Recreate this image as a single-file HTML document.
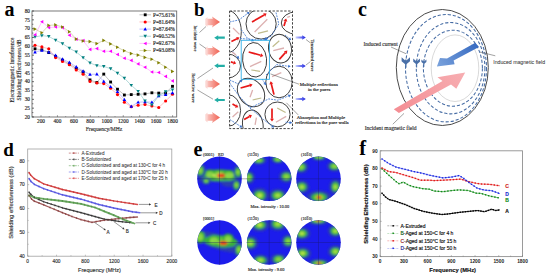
<!DOCTYPE html><html><head><meta charset="utf-8"><style>html,body{margin:0;padding:0;background:#fff;}svg{display:block;}</style></head><body>
<svg width="550" height="278" viewBox="0 0 550 278">
<rect width="550" height="278" fill="#fff"/>
<rect x="32.0" y="11.0" width="144.7" height="106.0" fill="none" stroke="#6a6a6a" stroke-width="0.9"/>
<line x1="32.0" y1="117.00" x2="34.0" y2="117.00" stroke="#333" stroke-width="0.7"/>
<text x="30.00" y="118.80" font-size="5.3" font-family="'Liberation Serif', serif" text-anchor="end" fill="#222" font-weight="normal" stroke="#222" stroke-width="0.15" >20</text>
<line x1="32.0" y1="108.17" x2="34.0" y2="108.17" stroke="#333" stroke-width="0.7"/>
<text x="30.00" y="109.97" font-size="5.3" font-family="'Liberation Serif', serif" text-anchor="end" fill="#222" font-weight="normal" stroke="#222" stroke-width="0.15" >25</text>
<line x1="32.0" y1="99.33" x2="34.0" y2="99.33" stroke="#333" stroke-width="0.7"/>
<text x="30.00" y="101.13" font-size="5.3" font-family="'Liberation Serif', serif" text-anchor="end" fill="#222" font-weight="normal" stroke="#222" stroke-width="0.15" >30</text>
<line x1="32.0" y1="90.50" x2="34.0" y2="90.50" stroke="#333" stroke-width="0.7"/>
<text x="30.00" y="92.30" font-size="5.3" font-family="'Liberation Serif', serif" text-anchor="end" fill="#222" font-weight="normal" stroke="#222" stroke-width="0.15" >35</text>
<line x1="32.0" y1="81.67" x2="34.0" y2="81.67" stroke="#333" stroke-width="0.7"/>
<text x="30.00" y="83.47" font-size="5.3" font-family="'Liberation Serif', serif" text-anchor="end" fill="#222" font-weight="normal" stroke="#222" stroke-width="0.15" >40</text>
<line x1="32.0" y1="72.83" x2="34.0" y2="72.83" stroke="#333" stroke-width="0.7"/>
<text x="30.00" y="74.63" font-size="5.3" font-family="'Liberation Serif', serif" text-anchor="end" fill="#222" font-weight="normal" stroke="#222" stroke-width="0.15" >45</text>
<line x1="32.0" y1="64.00" x2="34.0" y2="64.00" stroke="#333" stroke-width="0.7"/>
<text x="30.00" y="65.80" font-size="5.3" font-family="'Liberation Serif', serif" text-anchor="end" fill="#222" font-weight="normal" stroke="#222" stroke-width="0.15" >50</text>
<line x1="32.0" y1="55.17" x2="34.0" y2="55.17" stroke="#333" stroke-width="0.7"/>
<text x="30.00" y="56.97" font-size="5.3" font-family="'Liberation Serif', serif" text-anchor="end" fill="#222" font-weight="normal" stroke="#222" stroke-width="0.15" >55</text>
<line x1="32.0" y1="46.33" x2="34.0" y2="46.33" stroke="#333" stroke-width="0.7"/>
<text x="30.00" y="48.13" font-size="5.3" font-family="'Liberation Serif', serif" text-anchor="end" fill="#222" font-weight="normal" stroke="#222" stroke-width="0.15" >60</text>
<line x1="32.0" y1="37.50" x2="34.0" y2="37.50" stroke="#333" stroke-width="0.7"/>
<text x="30.00" y="39.30" font-size="5.3" font-family="'Liberation Serif', serif" text-anchor="end" fill="#222" font-weight="normal" stroke="#222" stroke-width="0.15" >65</text>
<line x1="32.0" y1="28.67" x2="34.0" y2="28.67" stroke="#333" stroke-width="0.7"/>
<text x="30.00" y="30.47" font-size="5.3" font-family="'Liberation Serif', serif" text-anchor="end" fill="#222" font-weight="normal" stroke="#222" stroke-width="0.15" >70</text>
<line x1="32.0" y1="19.83" x2="34.0" y2="19.83" stroke="#333" stroke-width="0.7"/>
<text x="30.00" y="21.63" font-size="5.3" font-family="'Liberation Serif', serif" text-anchor="end" fill="#222" font-weight="normal" stroke="#222" stroke-width="0.15" >75</text>
<line x1="32.0" y1="11.00" x2="34.0" y2="11.00" stroke="#333" stroke-width="0.7"/>
<text x="30.00" y="12.80" font-size="5.3" font-family="'Liberation Serif', serif" text-anchor="end" fill="#222" font-weight="normal" stroke="#222" stroke-width="0.15" >80</text>
<line x1="32.0" y1="112.58" x2="33.4" y2="112.58" stroke="#333" stroke-width="0.6"/>
<line x1="32.0" y1="103.75" x2="33.4" y2="103.75" stroke="#333" stroke-width="0.6"/>
<line x1="32.0" y1="94.92" x2="33.4" y2="94.92" stroke="#333" stroke-width="0.6"/>
<line x1="32.0" y1="86.08" x2="33.4" y2="86.08" stroke="#333" stroke-width="0.6"/>
<line x1="32.0" y1="77.25" x2="33.4" y2="77.25" stroke="#333" stroke-width="0.6"/>
<line x1="32.0" y1="68.42" x2="33.4" y2="68.42" stroke="#333" stroke-width="0.6"/>
<line x1="32.0" y1="59.58" x2="33.4" y2="59.58" stroke="#333" stroke-width="0.6"/>
<line x1="32.0" y1="50.75" x2="33.4" y2="50.75" stroke="#333" stroke-width="0.6"/>
<line x1="32.0" y1="41.92" x2="33.4" y2="41.92" stroke="#333" stroke-width="0.6"/>
<line x1="32.0" y1="33.08" x2="33.4" y2="33.08" stroke="#333" stroke-width="0.6"/>
<line x1="32.0" y1="24.25" x2="33.4" y2="24.25" stroke="#333" stroke-width="0.6"/>
<line x1="32.0" y1="15.42" x2="33.4" y2="15.42" stroke="#333" stroke-width="0.6"/>
<line x1="41.00" y1="117.0" x2="41.00" y2="115.2" stroke="#555" stroke-width="0.6"/>
<text x="41.00" y="123.10" font-size="5.3" font-family="'Liberation Serif', serif" text-anchor="middle" fill="#222" font-weight="normal" stroke="#222" stroke-width="0.15" >200</text>
<line x1="57.45" y1="117.0" x2="57.45" y2="115.2" stroke="#555" stroke-width="0.6"/>
<text x="57.45" y="123.10" font-size="5.3" font-family="'Liberation Serif', serif" text-anchor="middle" fill="#222" font-weight="normal" stroke="#222" stroke-width="0.15" >400</text>
<line x1="73.90" y1="117.0" x2="73.90" y2="115.2" stroke="#555" stroke-width="0.6"/>
<text x="73.90" y="123.10" font-size="5.3" font-family="'Liberation Serif', serif" text-anchor="middle" fill="#222" font-weight="normal" stroke="#222" stroke-width="0.15" >600</text>
<line x1="90.35" y1="117.0" x2="90.35" y2="115.2" stroke="#555" stroke-width="0.6"/>
<text x="90.35" y="123.10" font-size="5.3" font-family="'Liberation Serif', serif" text-anchor="middle" fill="#222" font-weight="normal" stroke="#222" stroke-width="0.15" >800</text>
<line x1="106.80" y1="117.0" x2="106.80" y2="115.2" stroke="#555" stroke-width="0.6"/>
<text x="106.80" y="123.10" font-size="5.3" font-family="'Liberation Serif', serif" text-anchor="middle" fill="#222" font-weight="normal" stroke="#222" stroke-width="0.15" >1000</text>
<line x1="123.25" y1="117.0" x2="123.25" y2="115.2" stroke="#555" stroke-width="0.6"/>
<text x="123.25" y="123.10" font-size="5.3" font-family="'Liberation Serif', serif" text-anchor="middle" fill="#222" font-weight="normal" stroke="#222" stroke-width="0.15" >1200</text>
<line x1="139.70" y1="117.0" x2="139.70" y2="115.2" stroke="#555" stroke-width="0.6"/>
<text x="139.70" y="123.10" font-size="5.3" font-family="'Liberation Serif', serif" text-anchor="middle" fill="#222" font-weight="normal" stroke="#222" stroke-width="0.15" >1400</text>
<line x1="156.15" y1="117.0" x2="156.15" y2="115.2" stroke="#555" stroke-width="0.6"/>
<text x="156.15" y="123.10" font-size="5.3" font-family="'Liberation Serif', serif" text-anchor="middle" fill="#222" font-weight="normal" stroke="#222" stroke-width="0.15" >1600</text>
<line x1="172.60" y1="117.0" x2="172.60" y2="115.2" stroke="#555" stroke-width="0.6"/>
<text x="172.60" y="123.10" font-size="5.3" font-family="'Liberation Serif', serif" text-anchor="middle" fill="#222" font-weight="normal" stroke="#222" stroke-width="0.15" >1800</text>
<line x1="32.77" y1="117.0" x2="32.77" y2="116.0" stroke="#555" stroke-width="0.5"/>
<line x1="49.23" y1="117.0" x2="49.23" y2="116.0" stroke="#555" stroke-width="0.5"/>
<line x1="65.67" y1="117.0" x2="65.67" y2="116.0" stroke="#555" stroke-width="0.5"/>
<line x1="82.12" y1="117.0" x2="82.12" y2="116.0" stroke="#555" stroke-width="0.5"/>
<line x1="98.58" y1="117.0" x2="98.58" y2="116.0" stroke="#555" stroke-width="0.5"/>
<line x1="115.03" y1="117.0" x2="115.03" y2="116.0" stroke="#555" stroke-width="0.5"/>
<line x1="131.48" y1="117.0" x2="131.48" y2="116.0" stroke="#555" stroke-width="0.5"/>
<line x1="147.93" y1="117.0" x2="147.93" y2="116.0" stroke="#555" stroke-width="0.5"/>
<line x1="164.38" y1="117.0" x2="164.38" y2="116.0" stroke="#555" stroke-width="0.5"/>
<text x="104.00" y="130.60" font-size="5.6" font-family="'Liberation Serif', serif" text-anchor="middle" fill="#333" font-weight="normal" stroke="#333" stroke-width="0.15" >Frequency/MHz</text>
<g transform="translate(14.0,70) rotate(-90)">
<text x="0.00" y="0.00" font-size="5.6" font-family="'Liberation Serif', serif" text-anchor="middle" fill="#333" font-weight="normal" stroke="#333" stroke-width="0.15" >Electromagnetic Interference</text>
<text x="0.00" y="6.90" font-size="5.6" font-family="'Liberation Serif', serif" text-anchor="middle" fill="#333" font-weight="normal" stroke="#333" stroke-width="0.15" >Shielding Effectiveness/dB</text>
</g>
<polyline points="35.00,48.80 41.88,49.80 48.75,52.60 55.62,56.40 62.50,60.20 69.38,64.00 76.25,68.30 83.12,72.00 90.00,79.90 96.88,82.50 103.75,74.10 110.62,82.00 117.50,89.20 124.38,95.00 131.25,94.60 138.12,94.30 145.00,93.90 151.88,92.80 158.75,93.10 165.62,93.10 172.50,86.30" fill="none" stroke="#9a9a9a" stroke-width="0.6"/>
<polyline points="35.00,45.30 41.88,46.90 48.75,48.80 55.62,57.60 62.50,61.40 69.38,64.80 76.25,70.00 83.12,74.20 90.00,81.40 96.88,83.00 103.75,83.60 110.62,88.30 117.50,94.60 124.38,102.20 131.25,106.70 138.12,105.20 145.00,104.50 151.88,106.00 158.75,107.50 165.62,101.00 172.50,94.30" fill="none" stroke="#ff9a9a" stroke-width="0.6"/>
<polyline points="35.00,52.00 41.88,50.30 48.75,52.00 55.62,55.40 62.50,59.10 69.38,62.40 76.25,66.80 83.12,71.00 90.00,74.40 96.88,74.10 103.75,81.40 110.62,86.70 117.50,91.70 124.38,99.50 131.25,106.40 138.12,102.20 145.00,101.90 151.88,102.20 158.75,95.80 165.62,94.60 172.50,92.80" fill="none" stroke="#9a9aff" stroke-width="0.6"/>
<polyline points="35.00,37.00 41.88,35.60 48.75,36.40 55.62,40.20 62.50,43.60 69.38,48.20 76.25,52.00 83.12,57.60 90.00,62.90 96.88,65.70 103.75,66.40 110.62,68.70 117.50,73.10 124.38,78.20 131.25,85.30 138.12,91.30 145.00,101.00 151.88,104.90 158.75,95.80 165.62,91.60 172.50,89.80" fill="none" stroke="#80c0c0" stroke-width="0.6"/>
<polyline points="35.00,34.80 41.88,21.70 48.75,27.60 55.62,27.00 62.50,27.60 69.38,35.20 76.25,39.20 83.12,40.60 90.00,49.40 96.88,48.60 103.75,51.30 110.62,51.30 117.50,54.50 124.38,58.20 131.25,60.40 138.12,63.90 145.00,67.20 151.88,72.00 158.75,72.50 165.62,76.40 172.50,80.90" fill="none" stroke="#ff9aff" stroke-width="0.6"/>
<polyline points="35.00,29.10 41.88,32.70 48.75,25.40 55.62,24.90 62.50,27.00 69.38,31.70 76.25,39.10 83.12,41.00 90.00,41.60 96.88,43.60 103.75,40.40 110.62,43.90 117.50,47.30 124.38,50.80 131.25,53.60 138.12,55.10 145.00,57.40 151.88,59.30 158.75,62.70 165.62,67.20 172.50,71.40" fill="none" stroke="#c0c080" stroke-width="0.6"/>
<rect x="33.58" y="47.38" width="2.84" height="2.84" fill="#000000"/>
<rect x="40.45" y="48.38" width="2.84" height="2.84" fill="#000000"/>
<rect x="47.33" y="51.18" width="2.84" height="2.84" fill="#000000"/>
<rect x="54.20" y="54.98" width="2.84" height="2.84" fill="#000000"/>
<rect x="61.08" y="58.78" width="2.84" height="2.84" fill="#000000"/>
<rect x="67.95" y="62.58" width="2.84" height="2.84" fill="#000000"/>
<rect x="74.83" y="66.88" width="2.84" height="2.84" fill="#000000"/>
<rect x="81.70" y="70.58" width="2.84" height="2.84" fill="#000000"/>
<rect x="88.58" y="78.48" width="2.84" height="2.84" fill="#000000"/>
<rect x="95.45" y="81.08" width="2.84" height="2.84" fill="#000000"/>
<rect x="102.33" y="72.68" width="2.84" height="2.84" fill="#000000"/>
<rect x="109.20" y="80.58" width="2.84" height="2.84" fill="#000000"/>
<rect x="116.08" y="87.78" width="2.84" height="2.84" fill="#000000"/>
<rect x="122.95" y="93.58" width="2.84" height="2.84" fill="#000000"/>
<rect x="129.83" y="93.18" width="2.84" height="2.84" fill="#000000"/>
<rect x="136.71" y="92.88" width="2.84" height="2.84" fill="#000000"/>
<rect x="143.58" y="92.48" width="2.84" height="2.84" fill="#000000"/>
<rect x="150.46" y="91.38" width="2.84" height="2.84" fill="#000000"/>
<rect x="157.33" y="91.68" width="2.84" height="2.84" fill="#000000"/>
<rect x="164.21" y="91.68" width="2.84" height="2.84" fill="#000000"/>
<rect x="171.08" y="84.88" width="2.84" height="2.84" fill="#000000"/>
<circle cx="35.00" cy="45.30" r="1.56" fill="#ff0000"/>
<circle cx="41.88" cy="46.90" r="1.56" fill="#ff0000"/>
<circle cx="48.75" cy="48.80" r="1.56" fill="#ff0000"/>
<circle cx="55.62" cy="57.60" r="1.56" fill="#ff0000"/>
<circle cx="62.50" cy="61.40" r="1.56" fill="#ff0000"/>
<circle cx="69.38" cy="64.80" r="1.56" fill="#ff0000"/>
<circle cx="76.25" cy="70.00" r="1.56" fill="#ff0000"/>
<circle cx="83.12" cy="74.20" r="1.56" fill="#ff0000"/>
<circle cx="90.00" cy="81.40" r="1.56" fill="#ff0000"/>
<circle cx="96.88" cy="83.00" r="1.56" fill="#ff0000"/>
<circle cx="103.75" cy="83.60" r="1.56" fill="#ff0000"/>
<circle cx="110.62" cy="88.30" r="1.56" fill="#ff0000"/>
<circle cx="117.50" cy="94.60" r="1.56" fill="#ff0000"/>
<circle cx="124.38" cy="102.20" r="1.56" fill="#ff0000"/>
<circle cx="131.25" cy="106.70" r="1.56" fill="#ff0000"/>
<circle cx="138.12" cy="105.20" r="1.56" fill="#ff0000"/>
<circle cx="145.00" cy="104.50" r="1.56" fill="#ff0000"/>
<circle cx="151.88" cy="106.00" r="1.56" fill="#ff0000"/>
<circle cx="158.75" cy="107.50" r="1.56" fill="#ff0000"/>
<circle cx="165.62" cy="101.00" r="1.56" fill="#ff0000"/>
<circle cx="172.50" cy="94.30" r="1.56" fill="#ff0000"/>
<path d="M35.00 50.23 L36.77 53.42 L33.23 53.42Z" fill="#0000ff"/>
<path d="M41.88 48.52 L43.65 51.72 L40.10 51.72Z" fill="#0000ff"/>
<path d="M48.75 50.23 L50.52 53.42 L46.98 53.42Z" fill="#0000ff"/>
<path d="M55.62 53.62 L57.40 56.82 L53.85 56.82Z" fill="#0000ff"/>
<path d="M62.50 57.33 L64.28 60.52 L60.73 60.52Z" fill="#0000ff"/>
<path d="M69.38 60.62 L71.15 63.82 L67.60 63.82Z" fill="#0000ff"/>
<path d="M76.25 65.02 L78.03 68.22 L74.47 68.22Z" fill="#0000ff"/>
<path d="M83.12 69.22 L84.90 72.42 L81.35 72.42Z" fill="#0000ff"/>
<path d="M90.00 72.62 L91.78 75.82 L88.22 75.82Z" fill="#0000ff"/>
<path d="M96.88 72.32 L98.65 75.52 L95.10 75.52Z" fill="#0000ff"/>
<path d="M103.75 79.62 L105.53 82.82 L101.97 82.82Z" fill="#0000ff"/>
<path d="M110.62 84.92 L112.40 88.12 L108.85 88.12Z" fill="#0000ff"/>
<path d="M117.50 89.92 L119.28 93.12 L115.72 93.12Z" fill="#0000ff"/>
<path d="M124.38 97.72 L126.15 100.92 L122.60 100.92Z" fill="#0000ff"/>
<path d="M131.25 104.62 L133.03 107.82 L129.47 107.82Z" fill="#0000ff"/>
<path d="M138.12 100.42 L139.90 103.62 L136.35 103.62Z" fill="#0000ff"/>
<path d="M145.00 100.12 L146.78 103.32 L143.22 103.32Z" fill="#0000ff"/>
<path d="M151.88 100.42 L153.65 103.62 L150.10 103.62Z" fill="#0000ff"/>
<path d="M158.75 94.02 L160.53 97.22 L156.97 97.22Z" fill="#0000ff"/>
<path d="M165.62 92.82 L167.40 96.02 L163.85 96.02Z" fill="#0000ff"/>
<path d="M172.50 91.02 L174.28 94.22 L170.72 94.22Z" fill="#0000ff"/>
<path d="M35.00 38.77 L36.77 35.58 L33.23 35.58Z" fill="#008080"/>
<path d="M41.88 37.38 L43.65 34.18 L40.10 34.18Z" fill="#008080"/>
<path d="M48.75 38.17 L50.52 34.98 L46.98 34.98Z" fill="#008080"/>
<path d="M55.62 41.98 L57.40 38.78 L53.85 38.78Z" fill="#008080"/>
<path d="M62.50 45.38 L64.28 42.18 L60.73 42.18Z" fill="#008080"/>
<path d="M69.38 49.98 L71.15 46.78 L67.60 46.78Z" fill="#008080"/>
<path d="M76.25 53.77 L78.03 50.58 L74.47 50.58Z" fill="#008080"/>
<path d="M83.12 59.38 L84.90 56.18 L81.35 56.18Z" fill="#008080"/>
<path d="M90.00 64.67 L91.78 61.48 L88.22 61.48Z" fill="#008080"/>
<path d="M96.88 67.48 L98.65 64.28 L95.10 64.28Z" fill="#008080"/>
<path d="M103.75 68.18 L105.53 64.98 L101.97 64.98Z" fill="#008080"/>
<path d="M110.62 70.48 L112.40 67.28 L108.85 67.28Z" fill="#008080"/>
<path d="M117.50 74.88 L119.28 71.68 L115.72 71.68Z" fill="#008080"/>
<path d="M124.38 79.98 L126.15 76.78 L122.60 76.78Z" fill="#008080"/>
<path d="M131.25 87.08 L133.03 83.88 L129.47 83.88Z" fill="#008080"/>
<path d="M138.12 93.08 L139.90 89.88 L136.35 89.88Z" fill="#008080"/>
<path d="M145.00 102.78 L146.78 99.58 L143.22 99.58Z" fill="#008080"/>
<path d="M151.88 106.68 L153.65 103.48 L150.10 103.48Z" fill="#008080"/>
<path d="M158.75 97.58 L160.53 94.38 L156.97 94.38Z" fill="#008080"/>
<path d="M165.62 93.38 L167.40 90.18 L163.85 90.18Z" fill="#008080"/>
<path d="M172.50 91.58 L174.28 88.38 L170.72 88.38Z" fill="#008080"/>
<path d="M33.23 34.80 L36.42 33.02 L36.42 36.57Z" fill="#ff00ff"/>
<path d="M40.10 21.70 L43.30 19.93 L43.30 23.47Z" fill="#ff00ff"/>
<path d="M46.98 27.60 L50.17 25.83 L50.17 29.38Z" fill="#ff00ff"/>
<path d="M53.85 27.00 L57.05 25.23 L57.05 28.77Z" fill="#ff00ff"/>
<path d="M60.73 27.60 L63.92 25.83 L63.92 29.38Z" fill="#ff00ff"/>
<path d="M67.60 35.20 L70.80 33.43 L70.80 36.98Z" fill="#ff00ff"/>
<path d="M74.47 39.20 L77.67 37.43 L77.67 40.98Z" fill="#ff00ff"/>
<path d="M81.35 40.60 L84.55 38.83 L84.55 42.38Z" fill="#ff00ff"/>
<path d="M88.22 49.40 L91.42 47.62 L91.42 51.17Z" fill="#ff00ff"/>
<path d="M95.10 48.60 L98.30 46.83 L98.30 50.38Z" fill="#ff00ff"/>
<path d="M101.97 51.30 L105.17 49.52 L105.17 53.07Z" fill="#ff00ff"/>
<path d="M108.85 51.30 L112.05 49.52 L112.05 53.07Z" fill="#ff00ff"/>
<path d="M115.72 54.50 L118.92 52.73 L118.92 56.27Z" fill="#ff00ff"/>
<path d="M122.60 58.20 L125.80 56.43 L125.80 59.98Z" fill="#ff00ff"/>
<path d="M129.47 60.40 L132.67 58.62 L132.67 62.17Z" fill="#ff00ff"/>
<path d="M136.35 63.90 L139.54 62.12 L139.54 65.67Z" fill="#ff00ff"/>
<path d="M143.22 67.20 L146.42 65.42 L146.42 68.98Z" fill="#ff00ff"/>
<path d="M150.10 72.00 L153.29 70.22 L153.29 73.78Z" fill="#ff00ff"/>
<path d="M156.97 72.50 L160.17 70.72 L160.17 74.28Z" fill="#ff00ff"/>
<path d="M163.85 76.40 L167.04 74.62 L167.04 78.18Z" fill="#ff00ff"/>
<path d="M170.72 80.90 L173.92 79.12 L173.92 82.68Z" fill="#ff00ff"/>
<path d="M36.77 29.10 L33.58 27.33 L33.58 30.88Z" fill="#808000"/>
<path d="M43.65 32.70 L40.45 30.93 L40.45 34.48Z" fill="#808000"/>
<path d="M50.52 25.40 L47.33 23.62 L47.33 27.17Z" fill="#808000"/>
<path d="M57.40 24.90 L54.20 23.12 L54.20 26.67Z" fill="#808000"/>
<path d="M64.28 27.00 L61.08 25.23 L61.08 28.77Z" fill="#808000"/>
<path d="M71.15 31.70 L67.95 29.93 L67.95 33.48Z" fill="#808000"/>
<path d="M78.03 39.10 L74.83 37.33 L74.83 40.88Z" fill="#808000"/>
<path d="M84.90 41.00 L81.70 39.23 L81.70 42.77Z" fill="#808000"/>
<path d="M91.78 41.60 L88.58 39.83 L88.58 43.38Z" fill="#808000"/>
<path d="M98.65 43.60 L95.45 41.83 L95.45 45.38Z" fill="#808000"/>
<path d="M105.53 40.40 L102.33 38.62 L102.33 42.17Z" fill="#808000"/>
<path d="M112.40 43.90 L109.20 42.12 L109.20 45.67Z" fill="#808000"/>
<path d="M119.28 47.30 L116.08 45.52 L116.08 49.07Z" fill="#808000"/>
<path d="M126.15 50.80 L122.95 49.02 L122.95 52.57Z" fill="#808000"/>
<path d="M133.03 53.60 L129.83 51.83 L129.83 55.38Z" fill="#808000"/>
<path d="M139.90 55.10 L136.71 53.33 L136.71 56.88Z" fill="#808000"/>
<path d="M146.78 57.40 L143.58 55.62 L143.58 59.17Z" fill="#808000"/>
<path d="M153.65 59.30 L150.46 57.52 L150.46 61.07Z" fill="#808000"/>
<path d="M160.53 62.70 L157.33 60.93 L157.33 64.48Z" fill="#808000"/>
<path d="M167.40 67.20 L164.21 65.42 L164.21 68.98Z" fill="#808000"/>
<path d="M174.28 71.40 L171.08 69.62 L171.08 73.18Z" fill="#808000"/>
<line x1="139.4" y1="14.80" x2="151" y2="14.80" stroke="#9a9a9a" stroke-width="0.6"/>
<rect x="143.78" y="13.38" width="2.84" height="2.84" fill="#000000"/>
<text x="153.00" y="16.60" font-size="5.2" font-family="'Liberation Serif', serif" text-anchor="start" fill="#222" font-weight="normal" stroke="#222" stroke-width="0.15" >P=75.61%</text>
<line x1="139.4" y1="21.95" x2="151" y2="21.95" stroke="#ff9a9a" stroke-width="0.6"/>
<circle cx="145.20" cy="21.95" r="1.56" fill="#ff0000"/>
<text x="153.00" y="23.75" font-size="5.2" font-family="'Liberation Serif', serif" text-anchor="start" fill="#222" font-weight="normal" stroke="#222" stroke-width="0.15" >P=81.64%</text>
<line x1="139.4" y1="29.10" x2="151" y2="29.10" stroke="#9a9aff" stroke-width="0.6"/>
<path d="M145.20 27.33 L146.97 30.52 L143.42 30.52Z" fill="#0000ff"/>
<text x="153.00" y="30.90" font-size="5.2" font-family="'Liberation Serif', serif" text-anchor="start" fill="#222" font-weight="normal" stroke="#222" stroke-width="0.15" >P=87.64%</text>
<line x1="139.4" y1="36.25" x2="151" y2="36.25" stroke="#80c0c0" stroke-width="0.6"/>
<path d="M145.20 38.02 L146.97 34.83 L143.42 34.83Z" fill="#008080"/>
<text x="153.00" y="38.05" font-size="5.2" font-family="'Liberation Serif', serif" text-anchor="start" fill="#222" font-weight="normal" stroke="#222" stroke-width="0.15" >P=90.52%</text>
<line x1="139.4" y1="43.40" x2="151" y2="43.40" stroke="#ff9aff" stroke-width="0.6"/>
<path d="M143.42 43.40 L146.62 41.63 L146.62 45.18Z" fill="#ff00ff"/>
<text x="153.00" y="45.20" font-size="5.2" font-family="'Liberation Serif', serif" text-anchor="start" fill="#222" font-weight="normal" stroke="#222" stroke-width="0.15" >P=92.67%</text>
<line x1="139.4" y1="50.55" x2="151" y2="50.55" stroke="#c0c080" stroke-width="0.6"/>
<path d="M146.97 50.55 L143.78 48.77 L143.78 52.32Z" fill="#808000"/>
<text x="153.00" y="52.35" font-size="5.2" font-family="'Liberation Serif', serif" text-anchor="start" fill="#222" font-weight="normal" stroke="#222" stroke-width="0.15" >P=93.08%</text>
<defs><clipPath id="bclip"><rect x="229.6" y="11.0" width="62.9" height="117.6"/></clipPath>
<linearGradient id="pinkg" x1="0" y1="0" x2="1" y2="0"><stop offset="0" stop-color="#fbd0cc"/><stop offset="1" stop-color="#f06050"/></linearGradient>
<linearGradient id="blueg" x1="0" y1="0" x2="1" y2="0"><stop offset="0" stop-color="#c8d0ff"/><stop offset="1" stop-color="#1a20e0"/></linearGradient>
<linearGradient id="tealg" x1="0" y1="0" x2="1" y2="0"><stop offset="0" stop-color="#20b0a0"/><stop offset="1" stop-color="#7ad8d0"/></linearGradient>
</defs>
<g clip-path="url(#bclip)">
<ellipse cx="227.5" cy="31.5" rx="13.8" ry="21.0" transform="rotate(0 227.5 31.5)" fill="none" stroke="#383838" stroke-width="0.95"/>
<ellipse cx="261.1" cy="23.8" rx="15.1" ry="15.3" transform="rotate(0 261.1 23.8)" fill="none" stroke="#383838" stroke-width="0.95"/>
<ellipse cx="296.5" cy="23.0" rx="15.2" ry="11.2" transform="rotate(0 296.5 23.0)" fill="none" stroke="#383838" stroke-width="0.95"/>
<ellipse cx="280.0" cy="48.6" rx="11.4" ry="14.4" transform="rotate(-10 280.0 48.6)" fill="none" stroke="#383838" stroke-width="0.95"/>
<ellipse cx="254.6" cy="59.8" rx="12.0" ry="17.3" transform="rotate(-5 254.6 59.8)" fill="none" stroke="#383838" stroke-width="0.95"/>
<ellipse cx="227.5" cy="66.0" rx="13.0" ry="12.0" transform="rotate(0 227.5 66.0)" fill="none" stroke="#383838" stroke-width="0.95"/>
<ellipse cx="251.0" cy="92.5" rx="12.2" ry="15.6" transform="rotate(-40 251.0 92.5)" fill="none" stroke="#383838" stroke-width="0.95"/>
<ellipse cx="279.0" cy="82.0" rx="13.2" ry="15.8" transform="rotate(0 279.0 82.0)" fill="none" stroke="#383838" stroke-width="0.95"/>
<ellipse cx="228.0" cy="110.5" rx="12.6" ry="15.8" transform="rotate(0 228.0 110.5)" fill="none" stroke="#383838" stroke-width="0.95"/>
<ellipse cx="252.8" cy="124.5" rx="10.2" ry="14.5" transform="rotate(-10 252.8 124.5)" fill="none" stroke="#383838" stroke-width="0.95"/>
<ellipse cx="277.5" cy="114.4" rx="12.6" ry="12.4" transform="rotate(0 277.5 114.4)" fill="none" stroke="#383838" stroke-width="0.95"/>
<path d="M229.60 22.00 L239.00 19.90 L249.50 12.00" fill="none" stroke="#4a7ed0" stroke-width="0.9" stroke-dasharray="1.9 1.0"/>
<line x1="249.40" y1="12.08" x2="247.58" y2="13.44" stroke="#3a70c8" stroke-width="0.1" stroke-linecap="butt"/>
<path d="M249.50 12.00 L248.54 14.72 L246.62 12.16Z" fill="#3a70c8"/>
<path d="M241.20 29.60 L247.60 38.50 L254.00 41.00" fill="none" stroke="#4a7ed0" stroke-width="0.9" stroke-dasharray="1.9 1.0"/>
<line x1="253.94" y1="40.98" x2="251.76" y2="40.13" stroke="#3a70c8" stroke-width="0.1" stroke-linecap="butt"/>
<path d="M254.00 41.00 L251.18 41.62 L252.35 38.64Z" fill="#3a70c8"/>
<path d="M276.00 12.50 L278.80 24.00 L271.30 36.00 L264.00 40.00" fill="none" stroke="#4a7ed0" stroke-width="0.9" stroke-dasharray="1.9 1.0"/>
<line x1="264.07" y1="39.96" x2="266.10" y2="38.85" stroke="#3a70c8" stroke-width="0.1" stroke-linecap="butt"/>
<path d="M264.00 40.00 L265.34 37.44 L266.87 40.25Z" fill="#3a70c8"/>
<path d="M240.00 38.50 L260.00 40.00 L268.00 38.50" fill="none" stroke="#4a7ed0" stroke-width="0.9" stroke-dasharray="1.9 1.0"/>
<line x1="267.92" y1="38.52" x2="265.64" y2="38.94" stroke="#3a70c8" stroke-width="0.1" stroke-linecap="butt"/>
<path d="M268.00 38.50 L265.94 40.51 L265.35 37.37Z" fill="#3a70c8"/>
<path d="M232.50 51.10 L239.00 58.70" fill="none" stroke="#4a7ed0" stroke-width="0.9" stroke-dasharray="1.9 1.0"/>
<line x1="238.94" y1="58.62" x2="237.44" y2="56.88" stroke="#3a70c8" stroke-width="0.1" stroke-linecap="butt"/>
<path d="M239.00 58.70 L236.22 57.92 L238.66 55.84Z" fill="#3a70c8"/>
<path d="M229.60 80.00 L238.50 84.00 L242.00 79.50" fill="none" stroke="#4a7ed0" stroke-width="0.9" stroke-dasharray="1.9 1.0"/>
<line x1="241.97" y1="79.55" x2="240.53" y2="81.39" stroke="#3a70c8" stroke-width="0.1" stroke-linecap="butt"/>
<path d="M242.00 79.50 L241.79 82.38 L239.26 80.41Z" fill="#3a70c8"/>
<path d="M266.00 75.00 L276.60 64.60 L290.60 66.60" fill="none" stroke="#4a7ed0" stroke-width="0.9" stroke-dasharray="1.9 1.0"/>
<line x1="290.46" y1="66.58" x2="288.22" y2="66.26" stroke="#3a70c8" stroke-width="0.1" stroke-linecap="butt"/>
<path d="M290.60 66.60 L288.00 67.84 L288.45 64.68Z" fill="#3a70c8"/>
<path d="M229.60 83.00 L238.30 95.00 L250.00 108.00 L263.60 119.60 L273.90 127.40" fill="none" stroke="#4a7ed0" stroke-width="0.9" stroke-dasharray="1.9 1.0"/>
<line x1="273.80" y1="127.32" x2="271.99" y2="125.95" stroke="#3a70c8" stroke-width="0.1" stroke-linecap="butt"/>
<path d="M273.90 127.40 L271.02 127.23 L272.95 124.68Z" fill="#3a70c8"/>
<path d="M250.00 108.00 L268.70 98.90 L277.80 100.20 L290.80 95.00" fill="none" stroke="#4a7ed0" stroke-width="0.9" stroke-dasharray="1.9 1.0"/>
<line x1="290.67" y1="95.05" x2="288.57" y2="95.89" stroke="#3a70c8" stroke-width="0.1" stroke-linecap="butt"/>
<path d="M290.80 95.00 L289.17 97.38 L287.98 94.41Z" fill="#3a70c8"/>
<path d="M229.90 119.60 L242.20 127.40" fill="none" stroke="#4a7ed0" stroke-width="0.9" stroke-dasharray="1.9 1.0"/>
<line x1="242.08" y1="127.32" x2="240.17" y2="126.11" stroke="#3a70c8" stroke-width="0.1" stroke-linecap="butt"/>
<path d="M242.20 127.40 L239.32 127.47 L241.03 124.76Z" fill="#3a70c8"/>
<path d="M285.60 122.20 L292.00 122.80" fill="none" stroke="#4a7ed0" stroke-width="0.9" stroke-dasharray="1.9 1.0"/>
<line x1="291.94" y1="122.79" x2="289.61" y2="122.58" stroke="#3a70c8" stroke-width="0.1" stroke-linecap="butt"/>
<path d="M292.00 122.80 L289.46 124.17 L289.76 120.98Z" fill="#3a70c8"/>
<path d="M262.00 79.00 L266.00 85.00" fill="none" stroke="#4a7ed0" stroke-width="0.9" stroke-dasharray="1.9 1.0"/>
<line x1="265.96" y1="84.94" x2="264.67" y2="83.00" stroke="#3a70c8" stroke-width="0.1" stroke-linecap="butt"/>
<path d="M266.00 85.00 L263.34 83.89 L266.00 82.12Z" fill="#3a70c8"/>
<path d="M285.00 35.00 L291.00 40.00" fill="none" stroke="#4a7ed0" stroke-width="0.9" stroke-dasharray="1.9 1.0"/>
<line x1="290.94" y1="39.95" x2="289.16" y2="38.46" stroke="#3a70c8" stroke-width="0.1" stroke-linecap="butt"/>
<path d="M291.00 40.00 L288.13 39.69 L290.18 37.23Z" fill="#3a70c8"/>
<line x1="252.00" y1="22.00" x2="264.17" y2="15.00" stroke="#e81818" stroke-width="1.7" stroke-linecap="butt"/>
<path d="M266.60 13.60 L265.17 16.73 L263.18 13.26Z" fill="#e81818"/>
<line x1="284.00" y1="26.00" x2="285.41" y2="21.19" stroke="#e81818" stroke-width="1.7" stroke-linecap="butt"/>
<path d="M286.20 18.50 L287.33 21.75 L283.49 20.62Z" fill="#e81818"/>
<line x1="231.40" y1="41.40" x2="236.97" y2="38.79" stroke="#e81818" stroke-width="1.7" stroke-linecap="butt"/>
<path d="M239.50 37.60 L237.81 40.60 L236.12 36.98Z" fill="#e81818"/>
<line x1="230.90" y1="61.90" x2="233.52" y2="62.69" stroke="#e81818" stroke-width="1.7" stroke-linecap="butt"/>
<path d="M236.20 63.50 L232.94 64.61 L234.10 60.78Z" fill="#e81818"/>
<line x1="248.70" y1="52.00" x2="260.60" y2="55.26" stroke="#e81818" stroke-width="1.7" stroke-linecap="butt"/>
<path d="M263.30 56.00 L260.07 57.19 L261.13 53.33Z" fill="#e81818"/>
<line x1="279.30" y1="59.30" x2="285.40" y2="52.66" stroke="#e81818" stroke-width="1.7" stroke-linecap="butt"/>
<path d="M287.30 50.60 L286.88 54.01 L283.93 51.31Z" fill="#e81818"/>
<line x1="240.60" y1="88.00" x2="249.91" y2="85.36" stroke="#e81818" stroke-width="1.7" stroke-linecap="butt"/>
<path d="M252.60 84.60 L250.45 87.29 L249.36 83.44Z" fill="#e81818"/>
<line x1="274.00" y1="94.60" x2="271.29" y2="84.01" stroke="#e81818" stroke-width="1.7" stroke-linecap="butt"/>
<path d="M270.60 81.30 L273.23 83.52 L269.36 84.51Z" fill="#e81818"/>
<line x1="232.50" y1="104.00" x2="235.87" y2="105.92" stroke="#e81818" stroke-width="1.7" stroke-linecap="butt"/>
<path d="M238.30 107.30 L234.88 107.65 L236.86 104.18Z" fill="#e81818"/>
<line x1="244.10" y1="119.60" x2="249.49" y2="116.42" stroke="#e81818" stroke-width="1.7" stroke-linecap="butt"/>
<path d="M251.90 115.00 L250.50 118.15 L248.47 114.70Z" fill="#e81818"/>
<line x1="272.00" y1="108.60" x2="272.00" y2="118.80" stroke="#e81818" stroke-width="1.7" stroke-linecap="butt"/>
<path d="M272.00 121.60 L270.00 118.80 L274.00 118.80Z" fill="#e81818"/>
<line x1="254.6" y1="32.0" x2="267.3" y2="19.3" stroke="#dcb0b0" stroke-width="1.3"/>
<line x1="287.3" y1="17.3" x2="290.0" y2="16.3" stroke="#dcb0b0" stroke-width="1.3"/>
<line x1="250.0" y1="66.6" x2="261.3" y2="61.3" stroke="#dcb0b0" stroke-width="1.3"/>
<line x1="273.3" y1="50.6" x2="284.0" y2="48.0" stroke="#dcb0b0" stroke-width="1.3"/>
<line x1="250.0" y1="97.3" x2="252.6" y2="90.0" stroke="#dcb0b0" stroke-width="1.3"/>
<line x1="272.0" y1="76.6" x2="281.3" y2="72.7" stroke="#dcb0b0" stroke-width="1.3"/>
<line x1="232.5" y1="117.0" x2="238.3" y2="111.8" stroke="#dcb0b0" stroke-width="1.3"/>
<line x1="256.4" y1="117.7" x2="255.1" y2="124.8" stroke="#dcb0b0" stroke-width="1.3"/>
<line x1="275.9" y1="122.2" x2="286.2" y2="116.4" stroke="#dcb0b0" stroke-width="1.3"/>
<line x1="233.0" y1="28.0" x2="239.5" y2="34.4" stroke="#dcb0b0" stroke-width="1.3"/>
<line x1="232.0" y1="52.0" x2="236.0" y2="55.0" stroke="#dcb0b0" stroke-width="1.3"/>
<line x1="258.0" y1="33.3" x2="268.0" y2="30.9" stroke="#c0bc8c" stroke-width="1.2"/>
<line x1="251.3" y1="70.0" x2="260.0" y2="71.3" stroke="#c0bc8c" stroke-width="1.2"/>
<line x1="272.6" y1="46.7" x2="279.3" y2="40.7" stroke="#c0bc8c" stroke-width="1.2"/>
<line x1="252.6" y1="100.0" x2="261.3" y2="98.0" stroke="#c0bc8c" stroke-width="1.2"/>
<line x1="277.2" y1="108.0" x2="285.6" y2="112.5" stroke="#c0bc8c" stroke-width="1.2"/>
</g>
<rect x="241.2" y="40.3" width="28.2" height="39.0" fill="none" stroke="#30b0e8" stroke-width="0.9"/>
<rect x="229.6" y="11.0" width="62.900000000000006" height="117.6" fill="none" stroke="#444" stroke-width="1.0" stroke-dasharray="2.4 1.5"/>
<path d="M205.6 18.80 L212.8 18.80 L212.0 16.60 L220.0 22.00 L212.0 27.40 L212.8 25.20 L205.6 25.20 Z" fill="url(#pinkg)"/>
<path d="M205.6 18.80 L205.6 25.20 L207.5 27.00 L207.5 17.00Z" fill="#fbd6d2"/>
<path d="M205.6 48.10 L212.8 48.10 L212.0 45.90 L220.0 51.30 L212.0 56.70 L212.8 54.50 L205.6 54.50 Z" fill="url(#pinkg)"/>
<path d="M205.6 48.10 L205.6 54.50 L207.5 56.30 L207.5 46.30Z" fill="#fbd6d2"/>
<path d="M205.6 80.80 L212.8 80.80 L212.0 78.60 L220.0 84.00 L212.0 89.40 L212.8 87.20 L205.6 87.20 Z" fill="url(#pinkg)"/>
<path d="M205.6 80.80 L205.6 87.20 L207.5 89.00 L207.5 79.00Z" fill="#fbd6d2"/>
<path d="M205.6 114.30 L212.8 114.30 L212.0 112.10 L220.0 117.50 L212.0 122.90 L212.8 120.70 L205.6 120.70 Z" fill="url(#pinkg)"/>
<path d="M205.6 114.30 L205.6 120.70 L207.5 122.50 L207.5 112.50Z" fill="#fbd6d2"/>
<path d="M224.80 36.60 L218.20 36.60 L218.20 35.20 L214.20 37.70 L218.20 40.20 L218.20 38.80 L224.80 38.80Z" fill="#22aea6" />
<path d="M224.80 64.70 L218.20 64.70 L218.20 63.30 L214.20 65.80 L218.20 68.30 L218.20 66.90 L224.80 66.90Z" fill="#22aea6" />
<path d="M224.80 98.90 L218.20 98.90 L218.20 97.50 L214.20 100.00 L218.20 102.50 L218.20 101.10 L224.80 101.10Z" fill="#22aea6" />
<path d="M295.60 38.60 L302.20 38.60 L302.20 39.70 L305.80 37.50 L302.20 35.30 L302.20 36.40 L295.60 36.40Z" fill="url(#blueg)" />
<path d="M295.60 67.10 L302.20 67.10 L302.20 68.20 L305.80 66.00 L302.20 63.80 L302.20 64.90 L295.60 64.90Z" fill="url(#blueg)" />
<path d="M295.60 100.10 L302.20 100.10 L302.20 101.20 L305.80 99.00 L302.20 96.80 L302.20 97.90 L295.60 97.90Z" fill="url(#blueg)" />
<g transform="translate(193.9,38.5) rotate(90)">
<text x="0.00" y="0.00" font-size="4.6" font-family="'Liberation Serif', serif" text-anchor="middle" fill="#333" font-weight="normal" stroke="#333" stroke-width="0.15" >Incident wave</text>
</g>
<g transform="translate(192.0,88.0) rotate(90)">
<text x="0.00" y="0.00" font-size="4.6" font-family="'Liberation Serif', serif" text-anchor="middle" fill="#333" font-weight="normal" stroke="#333" stroke-width="0.15" >Reflective wave</text>
</g>
<g transform="translate(311.2,55.5) rotate(90)">
<text x="0.00" y="0.00" font-size="4.5" font-family="'Liberation Serif', serif" text-anchor="middle" fill="#333" font-weight="normal" stroke="#333" stroke-width="0.15" >Transmitted wave</text>
</g>
<line x1="199.5" y1="32.5" x2="206.0" y2="26.5" stroke="#333" stroke-width="0.45"/>
<line x1="199.5" y1="44.0" x2="206.0" y2="48.5" stroke="#333" stroke-width="0.45"/>
<line x1="197.5" y1="78.5" x2="213.0" y2="68.0" stroke="#333" stroke-width="0.45"/>
<line x1="197.5" y1="90.0" x2="213.0" y2="99.2" stroke="#333" stroke-width="0.45"/>
<line x1="306.0" y1="39.5" x2="310.5" y2="43.0" stroke="#333" stroke-width="0.45"/>
<line x1="306.0" y1="65.0" x2="310.5" y2="61.5" stroke="#333" stroke-width="0.45"/>
<line x1="270.5" y1="73.9" x2="299.0" y2="84.2" stroke="#333" stroke-width="0.45"/>
<line x1="286.4" y1="102.8" x2="298.2" y2="114.9" stroke="#333" stroke-width="0.45"/>
<text x="318.80" y="85.60" font-size="4.8" font-family="'Liberation Serif', serif" text-anchor="middle" fill="#222" font-weight="normal" stroke="#222" stroke-width="0.15" >Multiple reflections</text>
<text x="319.20" y="91.40" font-size="4.8" font-family="'Liberation Serif', serif" text-anchor="middle" fill="#222" font-weight="normal" stroke="#222" stroke-width="0.15" >in the pores</text>
<text x="321.00" y="119.00" font-size="4.9" font-family="'Liberation Serif', serif" text-anchor="middle" fill="#222" font-weight="normal" stroke="#222" stroke-width="0.15" >Absorption and Multiple</text>
<text x="322.00" y="124.40" font-size="4.8" font-family="'Liberation Serif', serif" text-anchor="middle" fill="#222" font-weight="normal" stroke="#222" stroke-width="0.15" >reflections in the pore walls</text>
<defs><linearGradient id="cblue" gradientUnits="userSpaceOnUse" x1="479" y1="44" x2="437" y2="66"><stop offset="0" stop-color="#3468c0"/><stop offset="1" stop-color="#7aa2dc"/></linearGradient>
<linearGradient id="cpink" gradientUnits="userSpaceOnUse" x1="396" y1="112" x2="466" y2="72"><stop offset="0" stop-color="#f48e94"/><stop offset="1" stop-color="#f7aeb2"/></linearGradient></defs>
<ellipse cx="442.3" cy="67.5" rx="46.0" ry="58.0" fill="none" stroke="#4a4a4a" stroke-width="1.0"/>
<ellipse cx="455.0" cy="68.2" rx="23.8" ry="33.3" fill="none" stroke="#c8c8c8" stroke-width="0.7"/>
<ellipse cx="446.0" cy="68.2" rx="40.5" ry="53.7" fill="none" stroke="#466ca4" stroke-width="1.05" stroke-dasharray="3.2 1.9"/>
<ellipse cx="450.6" cy="68.2" rx="34.3" ry="45.7" fill="none" stroke="#466ca4" stroke-width="1.05" stroke-dasharray="3.2 1.9"/>
<ellipse cx="452.9" cy="68.2" rx="29.5" ry="38.0" fill="none" stroke="#466ca4" stroke-width="1.05" stroke-dasharray="3.2 1.9"/>
<path d="M401.60 57.20 L405.80 60.95 L410.00 57.20 L410.00 61.33 L405.80 64.70 L401.60 61.33Z" fill="#4a70a8"/>
<line x1="405.80" y1="59.45" x2="405.80" y2="67.70" stroke="#4a70a8" stroke-width="1.40"/>
<path d="M413.24 58.40 L416.60 61.40 L419.96 58.40 L419.96 61.70 L416.60 64.40 L413.24 61.70Z" fill="#4a70a8"/>
<line x1="416.60" y1="60.20" x2="416.60" y2="67.40" stroke="#4a70a8" stroke-width="1.12"/>
<path d="M421.38 59.40 L423.90 61.65 L426.42 59.40 L426.42 61.88 L423.90 63.90 L421.38 61.88Z" fill="#4a70a8"/>
<line x1="423.90" y1="60.75" x2="423.90" y2="66.90" stroke="#4a70a8" stroke-width="0.84"/>
<path d="M475.3 42.7 L479.0 47.0 L453.6 60.6 L454.6 64.2 L436.9 66.6 L440.0 58.0 L447.0 58.4 Z" fill="url(#cblue)"/>
<path d="M393.8 109.3 L442.5 80.9 L437.5 77.3 L465.2 72.5 L456.3 88.8 L451.0 84.4 L398.9 112.9 Z" fill="url(#cpink)"/>
<line x1="391.0" y1="47.0" x2="406.0" y2="53.7" stroke="#444" stroke-width="0.5"/>
<line x1="480.0" y1="52.0" x2="495.3" y2="55.8" stroke="#444" stroke-width="0.5"/>
<line x1="392.8" y1="124.2" x2="404.0" y2="113.4" stroke="#444" stroke-width="0.5"/>
<text x="380.60" y="45.80" font-size="5.45" font-family="'Liberation Serif', serif" text-anchor="middle" fill="#333" font-weight="normal" stroke="#333" stroke-width="0.15" >Induced current</text>
<text x="519.20" y="63.90" font-size="5.2" font-family="'Liberation Sans', sans-serif" text-anchor="middle" fill="#3a3a3a" font-weight="normal" stroke="#3a3a3a" stroke-width="0.05" >Induced magnetic field</text>
<text x="390.60" y="129.80" font-size="5.6" font-family="'Liberation Serif', serif" text-anchor="middle" fill="#333" font-weight="normal" stroke="#333" stroke-width="0.15" >Incident magnetic field</text>
<rect x="27.7" y="149.0" width="144.10000000000002" height="107.19999999999999" fill="none" stroke="#a0a0a0" stroke-width="0.8"/>
<line x1="27.7" y1="256.20" x2="29.2" y2="256.20" stroke="#888" stroke-width="0.5"/>
<text x="24.80" y="257.90" font-size="4.8" font-family="'Liberation Sans', sans-serif" text-anchor="end" fill="#333" font-weight="normal" stroke="#333" stroke-width="0.15" >40</text>
<line x1="27.7" y1="244.27" x2="28.7" y2="244.27" stroke="#888" stroke-width="0.5"/>
<line x1="27.7" y1="232.35" x2="29.2" y2="232.35" stroke="#888" stroke-width="0.5"/>
<text x="24.80" y="234.05" font-size="4.8" font-family="'Liberation Sans', sans-serif" text-anchor="end" fill="#333" font-weight="normal" stroke="#333" stroke-width="0.15" >50</text>
<line x1="27.7" y1="220.42" x2="28.7" y2="220.42" stroke="#888" stroke-width="0.5"/>
<line x1="27.7" y1="208.50" x2="29.2" y2="208.50" stroke="#888" stroke-width="0.5"/>
<text x="24.80" y="210.20" font-size="4.8" font-family="'Liberation Sans', sans-serif" text-anchor="end" fill="#333" font-weight="normal" stroke="#333" stroke-width="0.15" >60</text>
<line x1="27.7" y1="196.57" x2="28.7" y2="196.57" stroke="#888" stroke-width="0.5"/>
<line x1="27.7" y1="184.65" x2="29.2" y2="184.65" stroke="#888" stroke-width="0.5"/>
<text x="24.80" y="186.35" font-size="4.8" font-family="'Liberation Sans', sans-serif" text-anchor="end" fill="#333" font-weight="normal" stroke="#333" stroke-width="0.15" >70</text>
<line x1="27.7" y1="172.72" x2="28.7" y2="172.72" stroke="#888" stroke-width="0.5"/>
<line x1="27.7" y1="160.80" x2="29.2" y2="160.80" stroke="#888" stroke-width="0.5"/>
<text x="24.80" y="162.50" font-size="4.8" font-family="'Liberation Sans', sans-serif" text-anchor="end" fill="#333" font-weight="normal" stroke="#333" stroke-width="0.15" >80</text>
<line x1="27.70" y1="256.2" x2="27.70" y2="254.7" stroke="#888" stroke-width="0.5"/>
<text x="27.70" y="262.80" font-size="4.8" font-family="'Liberation Sans', sans-serif" text-anchor="middle" fill="#333" font-weight="normal" stroke="#333" stroke-width="0.15" >0</text>
<line x1="42.12" y1="256.2" x2="42.12" y2="255.2" stroke="#888" stroke-width="0.5"/>
<line x1="56.54" y1="256.2" x2="56.54" y2="254.7" stroke="#888" stroke-width="0.5"/>
<text x="56.54" y="262.80" font-size="4.8" font-family="'Liberation Sans', sans-serif" text-anchor="middle" fill="#333" font-weight="normal" stroke="#333" stroke-width="0.15" >400</text>
<line x1="70.96" y1="256.2" x2="70.96" y2="255.2" stroke="#888" stroke-width="0.5"/>
<line x1="85.38" y1="256.2" x2="85.38" y2="254.7" stroke="#888" stroke-width="0.5"/>
<text x="85.38" y="262.80" font-size="4.8" font-family="'Liberation Sans', sans-serif" text-anchor="middle" fill="#333" font-weight="normal" stroke="#333" stroke-width="0.15" >800</text>
<line x1="99.80" y1="256.2" x2="99.80" y2="255.2" stroke="#888" stroke-width="0.5"/>
<line x1="114.22" y1="256.2" x2="114.22" y2="254.7" stroke="#888" stroke-width="0.5"/>
<text x="114.22" y="262.80" font-size="4.8" font-family="'Liberation Sans', sans-serif" text-anchor="middle" fill="#333" font-weight="normal" stroke="#333" stroke-width="0.15" >1200</text>
<line x1="128.64" y1="256.2" x2="128.64" y2="255.2" stroke="#888" stroke-width="0.5"/>
<line x1="143.06" y1="256.2" x2="143.06" y2="254.7" stroke="#888" stroke-width="0.5"/>
<text x="143.06" y="262.80" font-size="4.8" font-family="'Liberation Sans', sans-serif" text-anchor="middle" fill="#333" font-weight="normal" stroke="#333" stroke-width="0.15" >1600</text>
<line x1="157.48" y1="256.2" x2="157.48" y2="255.2" stroke="#888" stroke-width="0.5"/>
<line x1="171.90" y1="256.2" x2="171.90" y2="254.7" stroke="#888" stroke-width="0.5"/>
<text x="171.90" y="262.80" font-size="4.8" font-family="'Liberation Sans', sans-serif" text-anchor="middle" fill="#333" font-weight="normal" stroke="#333" stroke-width="0.15" >2000</text>
<text x="99.50" y="271.60" font-size="5.55" font-family="'Liberation Sans', sans-serif" text-anchor="middle" fill="#333" font-weight="normal" stroke="#333" stroke-width="0.15" >Frequency (MHz)</text>
<g transform="translate(13.4,202.5) rotate(-90)">
<text x="0.00" y="0.00" font-size="5.85" font-family="'Liberation Sans', sans-serif" text-anchor="middle" fill="#333" font-weight="normal" stroke="#333" stroke-width="0.15" >Shielding effectiveness (dB)</text>
</g>
<path d="M29.10 195.50 L31.50 199.00 L34.30 201.20 L43.70 204.80 L50.00 207.50 L62.40 212.70 L72.00 216.50 L81.00 219.60 L92.00 222.30 L104.40 220.20 L118.80 218.60 L130.00 217.50 L137.50 217.00" fill="none" stroke="#a05a5a" stroke-width="1.3" stroke-linejoin="round" stroke-linecap="round"/>
<path d="M29.10 192.30 L31.00 194.50 L34.30 197.40 L43.70 201.70 L62.40 207.80 L81.00 212.70 L98.80 217.60 L104.40 219.20 L118.80 221.30 L133.20 223.00" fill="none" stroke="#404040" stroke-width="1.2" stroke-linejoin="round" stroke-linecap="round"/>
<path d="M29.10 195.50 L34.30 197.40 L43.70 198.80 L62.40 201.00 L81.00 203.80 L95.00 207.50 L104.30 211.30 L113.70 215.20 L123.00 219.30 L134.50 223.50" fill="none" stroke="#6aa860" stroke-width="1.8" stroke-linejoin="round" stroke-linecap="round"/>
<path d="M29.10 178.70 L31.00 181.50 L34.30 184.30 L43.70 188.70 L62.40 194.80 L81.00 199.20 L98.80 204.50 L113.70 208.00 L132.40 211.80 L139.90 212.70" fill="none" stroke="#6464e8" stroke-width="1.4" stroke-linejoin="round" stroke-linecap="round"/>
<path d="M29.10 172.70 L30.60 175.00 L34.30 178.70 L43.70 183.90 L62.40 189.50 L81.00 193.80 L98.80 198.30 L113.70 200.90 L125.00 202.60 L137.50 204.50" fill="none" stroke="#d84848" stroke-width="1.4" stroke-linejoin="round" stroke-linecap="round"/>
<rect x="28.50" y="171.80" width="1.2" height="1.8" fill="#c03030" opacity="0.7"/>
<rect x="30.00" y="174.10" width="1.2" height="1.8" fill="#c03030" opacity="0.7"/>
<rect x="33.70" y="177.80" width="1.2" height="1.8" fill="#c03030" opacity="0.7"/>
<rect x="38.40" y="180.40" width="1.2" height="1.8" fill="#c03030" opacity="0.7"/>
<rect x="43.10" y="183.00" width="1.2" height="1.8" fill="#c03030" opacity="0.7"/>
<rect x="46.84" y="184.12" width="1.2" height="1.8" fill="#c03030" opacity="0.7"/>
<rect x="50.58" y="185.24" width="1.2" height="1.8" fill="#c03030" opacity="0.7"/>
<rect x="54.32" y="186.36" width="1.2" height="1.8" fill="#c03030" opacity="0.7"/>
<rect x="58.06" y="187.48" width="1.2" height="1.8" fill="#c03030" opacity="0.7"/>
<rect x="61.80" y="188.60" width="1.2" height="1.8" fill="#c03030" opacity="0.7"/>
<rect x="65.52" y="189.46" width="1.2" height="1.8" fill="#c03030" opacity="0.7"/>
<rect x="69.24" y="190.32" width="1.2" height="1.8" fill="#c03030" opacity="0.7"/>
<rect x="72.96" y="191.18" width="1.2" height="1.8" fill="#c03030" opacity="0.7"/>
<rect x="76.68" y="192.04" width="1.2" height="1.8" fill="#c03030" opacity="0.7"/>
<rect x="80.40" y="192.90" width="1.2" height="1.8" fill="#c03030" opacity="0.7"/>
<rect x="83.96" y="193.80" width="1.2" height="1.8" fill="#c03030" opacity="0.7"/>
<rect x="87.52" y="194.70" width="1.2" height="1.8" fill="#c03030" opacity="0.7"/>
<rect x="91.08" y="195.60" width="1.2" height="1.8" fill="#c03030" opacity="0.7"/>
<rect x="94.64" y="196.50" width="1.2" height="1.8" fill="#c03030" opacity="0.7"/>
<rect x="98.20" y="197.40" width="1.2" height="1.8" fill="#c03030" opacity="0.7"/>
<rect x="101.93" y="198.05" width="1.2" height="1.8" fill="#c03030" opacity="0.7"/>
<rect x="105.65" y="198.70" width="1.2" height="1.8" fill="#c03030" opacity="0.7"/>
<rect x="109.38" y="199.35" width="1.2" height="1.8" fill="#c03030" opacity="0.7"/>
<rect x="113.10" y="200.00" width="1.2" height="1.8" fill="#c03030" opacity="0.7"/>
<rect x="116.87" y="200.57" width="1.2" height="1.8" fill="#c03030" opacity="0.7"/>
<rect x="120.63" y="201.13" width="1.2" height="1.8" fill="#c03030" opacity="0.7"/>
<rect x="124.40" y="201.70" width="1.2" height="1.8" fill="#c03030" opacity="0.7"/>
<rect x="128.57" y="202.33" width="1.2" height="1.8" fill="#c03030" opacity="0.7"/>
<rect x="132.73" y="202.97" width="1.2" height="1.8" fill="#c03030" opacity="0.7"/>
<rect x="28.50" y="177.80" width="1.2" height="1.8" fill="#4a4ad0" opacity="0.7"/>
<rect x="30.40" y="180.60" width="1.2" height="1.8" fill="#4a4ad0" opacity="0.7"/>
<rect x="33.70" y="183.40" width="1.2" height="1.8" fill="#4a4ad0" opacity="0.7"/>
<rect x="38.40" y="185.60" width="1.2" height="1.8" fill="#4a4ad0" opacity="0.7"/>
<rect x="43.10" y="187.80" width="1.2" height="1.8" fill="#4a4ad0" opacity="0.7"/>
<rect x="46.84" y="189.02" width="1.2" height="1.8" fill="#4a4ad0" opacity="0.7"/>
<rect x="50.58" y="190.24" width="1.2" height="1.8" fill="#4a4ad0" opacity="0.7"/>
<rect x="54.32" y="191.46" width="1.2" height="1.8" fill="#4a4ad0" opacity="0.7"/>
<rect x="58.06" y="192.68" width="1.2" height="1.8" fill="#4a4ad0" opacity="0.7"/>
<rect x="61.80" y="193.90" width="1.2" height="1.8" fill="#4a4ad0" opacity="0.7"/>
<rect x="65.52" y="194.78" width="1.2" height="1.8" fill="#4a4ad0" opacity="0.7"/>
<rect x="69.24" y="195.66" width="1.2" height="1.8" fill="#4a4ad0" opacity="0.7"/>
<rect x="72.96" y="196.54" width="1.2" height="1.8" fill="#4a4ad0" opacity="0.7"/>
<rect x="76.68" y="197.42" width="1.2" height="1.8" fill="#4a4ad0" opacity="0.7"/>
<rect x="80.40" y="198.30" width="1.2" height="1.8" fill="#4a4ad0" opacity="0.7"/>
<rect x="83.96" y="199.36" width="1.2" height="1.8" fill="#4a4ad0" opacity="0.7"/>
<rect x="87.52" y="200.42" width="1.2" height="1.8" fill="#4a4ad0" opacity="0.7"/>
<rect x="91.08" y="201.48" width="1.2" height="1.8" fill="#4a4ad0" opacity="0.7"/>
<rect x="94.64" y="202.54" width="1.2" height="1.8" fill="#4a4ad0" opacity="0.7"/>
<rect x="98.20" y="203.60" width="1.2" height="1.8" fill="#4a4ad0" opacity="0.7"/>
<rect x="101.93" y="204.47" width="1.2" height="1.8" fill="#4a4ad0" opacity="0.7"/>
<rect x="105.65" y="205.35" width="1.2" height="1.8" fill="#4a4ad0" opacity="0.7"/>
<rect x="109.38" y="206.22" width="1.2" height="1.8" fill="#4a4ad0" opacity="0.7"/>
<rect x="113.10" y="207.10" width="1.2" height="1.8" fill="#4a4ad0" opacity="0.7"/>
<rect x="116.84" y="207.86" width="1.2" height="1.8" fill="#4a4ad0" opacity="0.7"/>
<rect x="120.58" y="208.62" width="1.2" height="1.8" fill="#4a4ad0" opacity="0.7"/>
<rect x="124.32" y="209.38" width="1.2" height="1.8" fill="#4a4ad0" opacity="0.7"/>
<rect x="128.06" y="210.14" width="1.2" height="1.8" fill="#4a4ad0" opacity="0.7"/>
<rect x="131.80" y="210.90" width="1.2" height="1.8" fill="#4a4ad0" opacity="0.7"/>
<rect x="135.55" y="211.35" width="1.2" height="1.8" fill="#4a4ad0" opacity="0.7"/>
<rect x="28.50" y="194.60" width="1.2" height="1.8" fill="#4a8a40" opacity="0.7"/>
<rect x="33.70" y="196.50" width="1.2" height="1.8" fill="#4a8a40" opacity="0.7"/>
<rect x="38.40" y="197.20" width="1.2" height="1.8" fill="#4a8a40" opacity="0.7"/>
<rect x="43.10" y="197.90" width="1.2" height="1.8" fill="#4a8a40" opacity="0.7"/>
<rect x="46.84" y="198.34" width="1.2" height="1.8" fill="#4a8a40" opacity="0.7"/>
<rect x="50.58" y="198.78" width="1.2" height="1.8" fill="#4a8a40" opacity="0.7"/>
<rect x="54.32" y="199.22" width="1.2" height="1.8" fill="#4a8a40" opacity="0.7"/>
<rect x="58.06" y="199.66" width="1.2" height="1.8" fill="#4a8a40" opacity="0.7"/>
<rect x="61.80" y="200.10" width="1.2" height="1.8" fill="#4a8a40" opacity="0.7"/>
<rect x="65.52" y="200.66" width="1.2" height="1.8" fill="#4a8a40" opacity="0.7"/>
<rect x="69.24" y="201.22" width="1.2" height="1.8" fill="#4a8a40" opacity="0.7"/>
<rect x="72.96" y="201.78" width="1.2" height="1.8" fill="#4a8a40" opacity="0.7"/>
<rect x="76.68" y="202.34" width="1.2" height="1.8" fill="#4a8a40" opacity="0.7"/>
<rect x="80.40" y="202.90" width="1.2" height="1.8" fill="#4a8a40" opacity="0.7"/>
<rect x="83.90" y="203.83" width="1.2" height="1.8" fill="#4a8a40" opacity="0.7"/>
<rect x="87.40" y="204.75" width="1.2" height="1.8" fill="#4a8a40" opacity="0.7"/>
<rect x="90.90" y="205.67" width="1.2" height="1.8" fill="#4a8a40" opacity="0.7"/>
<rect x="94.40" y="206.60" width="1.2" height="1.8" fill="#4a8a40" opacity="0.7"/>
<rect x="99.05" y="208.50" width="1.2" height="1.8" fill="#4a8a40" opacity="0.7"/>
<rect x="103.70" y="210.40" width="1.2" height="1.8" fill="#4a8a40" opacity="0.7"/>
<rect x="108.40" y="212.35" width="1.2" height="1.8" fill="#4a8a40" opacity="0.7"/>
<rect x="113.10" y="214.30" width="1.2" height="1.8" fill="#4a8a40" opacity="0.7"/>
<rect x="117.75" y="216.35" width="1.2" height="1.8" fill="#4a8a40" opacity="0.7"/>
<rect x="122.40" y="218.40" width="1.2" height="1.8" fill="#4a8a40" opacity="0.7"/>
<rect x="126.23" y="219.80" width="1.2" height="1.8" fill="#4a8a40" opacity="0.7"/>
<rect x="130.07" y="221.20" width="1.2" height="1.8" fill="#4a8a40" opacity="0.7"/>
<rect x="28.50" y="191.40" width="1.2" height="1.8" fill="#303030" opacity="0.7"/>
<rect x="30.40" y="193.60" width="1.2" height="1.8" fill="#303030" opacity="0.7"/>
<rect x="33.70" y="196.50" width="1.2" height="1.8" fill="#303030" opacity="0.7"/>
<rect x="38.40" y="198.65" width="1.2" height="1.8" fill="#303030" opacity="0.7"/>
<rect x="43.10" y="200.80" width="1.2" height="1.8" fill="#303030" opacity="0.7"/>
<rect x="46.84" y="202.02" width="1.2" height="1.8" fill="#303030" opacity="0.7"/>
<rect x="50.58" y="203.24" width="1.2" height="1.8" fill="#303030" opacity="0.7"/>
<rect x="54.32" y="204.46" width="1.2" height="1.8" fill="#303030" opacity="0.7"/>
<rect x="58.06" y="205.68" width="1.2" height="1.8" fill="#303030" opacity="0.7"/>
<rect x="61.80" y="206.90" width="1.2" height="1.8" fill="#303030" opacity="0.7"/>
<rect x="65.52" y="207.88" width="1.2" height="1.8" fill="#303030" opacity="0.7"/>
<rect x="69.24" y="208.86" width="1.2" height="1.8" fill="#303030" opacity="0.7"/>
<rect x="72.96" y="209.84" width="1.2" height="1.8" fill="#303030" opacity="0.7"/>
<rect x="76.68" y="210.82" width="1.2" height="1.8" fill="#303030" opacity="0.7"/>
<rect x="80.40" y="211.80" width="1.2" height="1.8" fill="#303030" opacity="0.7"/>
<rect x="83.96" y="212.78" width="1.2" height="1.8" fill="#303030" opacity="0.7"/>
<rect x="87.52" y="213.76" width="1.2" height="1.8" fill="#303030" opacity="0.7"/>
<rect x="91.08" y="214.74" width="1.2" height="1.8" fill="#303030" opacity="0.7"/>
<rect x="94.64" y="215.72" width="1.2" height="1.8" fill="#303030" opacity="0.7"/>
<rect x="98.20" y="216.70" width="1.2" height="1.8" fill="#303030" opacity="0.7"/>
<rect x="103.80" y="218.30" width="1.2" height="1.8" fill="#303030" opacity="0.7"/>
<rect x="107.40" y="218.82" width="1.2" height="1.8" fill="#303030" opacity="0.7"/>
<rect x="111.00" y="219.35" width="1.2" height="1.8" fill="#303030" opacity="0.7"/>
<rect x="114.60" y="219.88" width="1.2" height="1.8" fill="#303030" opacity="0.7"/>
<rect x="118.20" y="220.40" width="1.2" height="1.8" fill="#303030" opacity="0.7"/>
<rect x="121.80" y="220.83" width="1.2" height="1.8" fill="#303030" opacity="0.7"/>
<rect x="125.40" y="221.25" width="1.2" height="1.8" fill="#303030" opacity="0.7"/>
<rect x="129.00" y="221.67" width="1.2" height="1.8" fill="#303030" opacity="0.7"/>
<rect x="28.50" y="194.60" width="1.2" height="1.8" fill="#803838" opacity="0.7"/>
<rect x="30.90" y="198.10" width="1.2" height="1.8" fill="#803838" opacity="0.7"/>
<rect x="33.70" y="200.30" width="1.2" height="1.8" fill="#803838" opacity="0.7"/>
<rect x="38.40" y="202.10" width="1.2" height="1.8" fill="#803838" opacity="0.7"/>
<rect x="43.10" y="203.90" width="1.2" height="1.8" fill="#803838" opacity="0.7"/>
<rect x="49.40" y="206.60" width="1.2" height="1.8" fill="#803838" opacity="0.7"/>
<rect x="53.53" y="208.33" width="1.2" height="1.8" fill="#803838" opacity="0.7"/>
<rect x="57.67" y="210.07" width="1.2" height="1.8" fill="#803838" opacity="0.7"/>
<rect x="61.80" y="211.80" width="1.2" height="1.8" fill="#803838" opacity="0.7"/>
<rect x="65.00" y="213.07" width="1.2" height="1.8" fill="#803838" opacity="0.7"/>
<rect x="68.20" y="214.33" width="1.2" height="1.8" fill="#803838" opacity="0.7"/>
<rect x="71.40" y="215.60" width="1.2" height="1.8" fill="#803838" opacity="0.7"/>
<rect x="75.90" y="217.15" width="1.2" height="1.8" fill="#803838" opacity="0.7"/>
<rect x="80.40" y="218.70" width="1.2" height="1.8" fill="#803838" opacity="0.7"/>
<rect x="84.07" y="219.60" width="1.2" height="1.8" fill="#803838" opacity="0.7"/>
<rect x="87.73" y="220.50" width="1.2" height="1.8" fill="#803838" opacity="0.7"/>
<rect x="91.40" y="221.40" width="1.2" height="1.8" fill="#803838" opacity="0.7"/>
<rect x="95.53" y="220.70" width="1.2" height="1.8" fill="#803838" opacity="0.7"/>
<rect x="99.67" y="220.00" width="1.2" height="1.8" fill="#803838" opacity="0.7"/>
<rect x="103.80" y="219.30" width="1.2" height="1.8" fill="#803838" opacity="0.7"/>
<rect x="107.40" y="218.90" width="1.2" height="1.8" fill="#803838" opacity="0.7"/>
<rect x="111.00" y="218.50" width="1.2" height="1.8" fill="#803838" opacity="0.7"/>
<rect x="114.60" y="218.10" width="1.2" height="1.8" fill="#803838" opacity="0.7"/>
<rect x="118.20" y="217.70" width="1.2" height="1.8" fill="#803838" opacity="0.7"/>
<rect x="121.93" y="217.33" width="1.2" height="1.8" fill="#803838" opacity="0.7"/>
<rect x="125.67" y="216.97" width="1.2" height="1.8" fill="#803838" opacity="0.7"/>
<rect x="129.40" y="216.60" width="1.2" height="1.8" fill="#803838" opacity="0.7"/>
<rect x="133.15" y="216.35" width="1.2" height="1.8" fill="#803838" opacity="0.7"/>
<line x1="138.90" y1="204.40" x2="149.00" y2="204.40" stroke="#333" stroke-width="0.5" stroke-linecap="butt"/>
<path d="M151.20 204.40 L149.00 205.50 L149.00 203.30Z" fill="#333"/>
<line x1="140.50" y1="212.80" x2="155.80" y2="212.80" stroke="#333" stroke-width="0.5" stroke-linecap="butt"/>
<path d="M158.00 212.80 L155.80 213.90 L155.80 211.70Z" fill="#333"/>
<line x1="135.50" y1="222.80" x2="148.30" y2="222.80" stroke="#333" stroke-width="0.5" stroke-linecap="butt"/>
<path d="M150.50 222.80 L148.30 223.90 L148.30 221.70Z" fill="#333"/>
<line x1="94.30" y1="222.30" x2="104.09" y2="229.05" stroke="#333" stroke-width="0.5" stroke-linecap="butt"/>
<path d="M105.90 230.30 L103.46 229.96 L104.71 228.15Z" fill="#333"/>
<line x1="113.80" y1="221.60" x2="122.82" y2="228.20" stroke="#333" stroke-width="0.5" stroke-linecap="butt"/>
<path d="M124.60 229.50 L122.17 229.09 L123.47 227.31Z" fill="#333"/>
<text x="154.40" y="206.60" font-size="4.6" font-family="'Liberation Sans', sans-serif" text-anchor="start" fill="#333" font-weight="normal" stroke="#333" stroke-width="0.15" >E</text>
<text x="159.30" y="214.60" font-size="4.6" font-family="'Liberation Sans', sans-serif" text-anchor="start" fill="#333" font-weight="normal" stroke="#333" stroke-width="0.15" >D</text>
<text x="153.10" y="224.60" font-size="4.6" font-family="'Liberation Sans', sans-serif" text-anchor="start" fill="#333" font-weight="normal" stroke="#333" stroke-width="0.15" >C</text>
<text x="108.00" y="234.20" font-size="4.6" font-family="'Liberation Sans', sans-serif" text-anchor="middle" fill="#333" font-weight="normal" stroke="#333" stroke-width="0.15" >A</text>
<text x="127.20" y="232.80" font-size="4.6" font-family="'Liberation Sans', sans-serif" text-anchor="middle" fill="#333" font-weight="normal" stroke="#333" stroke-width="0.15" >B</text>
<line x1="68.8" y1="153.10" x2="78.9" y2="153.10" stroke="#b04848" stroke-width="0.6" stroke-dasharray="2 1"/>
<rect x="73.2" y="152.30" width="1.4" height="1.6" fill="#b04848"/>
<text x="81.50" y="154.70" font-size="4.6" font-family="'Liberation Sans', sans-serif" text-anchor="start" fill="#333" font-weight="normal" stroke="#333" stroke-width="0.05" >A-Extruded</text>
<line x1="68.8" y1="159.40" x2="78.9" y2="159.40" stroke="#404040" stroke-width="0.6" stroke-dasharray="2 1"/>
<rect x="73.2" y="158.60" width="1.4" height="1.6" fill="#404040"/>
<text x="81.50" y="161.00" font-size="4.6" font-family="'Liberation Sans', sans-serif" text-anchor="start" fill="#333" font-weight="normal" stroke="#333" stroke-width="0.05" >B-Solutionized</text>
<line x1="68.8" y1="165.70" x2="78.9" y2="165.70" stroke="#6aa860" stroke-width="0.6" stroke-dasharray="2 1"/>
<rect x="73.2" y="164.90" width="1.4" height="1.6" fill="#6aa860"/>
<text x="81.50" y="167.30" font-size="4.6" font-family="'Liberation Sans', sans-serif" text-anchor="start" fill="#333" font-weight="normal" stroke="#333" stroke-width="0.05" >C-Solutionized and aged at 130<tspan dy="-1.4" font-size="3">o</tspan><tspan dy="1.4">C for 4 h</tspan></text>
<line x1="68.8" y1="172.00" x2="78.9" y2="172.00" stroke="#6464e8" stroke-width="0.6" stroke-dasharray="2 1"/>
<rect x="73.2" y="171.20" width="1.4" height="1.6" fill="#6464e8"/>
<text x="81.50" y="173.60" font-size="4.6" font-family="'Liberation Sans', sans-serif" text-anchor="start" fill="#333" font-weight="normal" stroke="#333" stroke-width="0.05" >D-Solutionized and aged at 130<tspan dy="-1.4" font-size="3">o</tspan><tspan dy="1.4">C for 20 h</tspan></text>
<line x1="68.8" y1="178.30" x2="78.9" y2="178.30" stroke="#d84848" stroke-width="0.6" stroke-dasharray="2 1"/>
<rect x="73.2" y="177.50" width="1.4" height="1.6" fill="#d84848"/>
<text x="81.50" y="179.90" font-size="4.6" font-family="'Liberation Sans', sans-serif" text-anchor="start" fill="#333" font-weight="normal" stroke="#333" stroke-width="0.05" >E-Solutionized and aged at 170<tspan dy="-1.4" font-size="3">o</tspan><tspan dy="1.4">C for 25 h</tspan></text>
<defs>
<clipPath id="ec0"><circle cx="219.5" cy="178.8" r="22.3"/></clipPath>
<clipPath id="ec1"><circle cx="269.2" cy="178.8" r="22.3"/></clipPath>
<clipPath id="ec2"><circle cx="318.5" cy="178.8" r="22.3"/></clipPath>
<clipPath id="ec3"><circle cx="219.6" cy="242.5" r="22.3"/></clipPath>
<clipPath id="ec4"><circle cx="269.2" cy="242.5" r="22.3"/></clipPath>
<clipPath id="ec5"><circle cx="318.5" cy="242.5" r="22.3"/></clipPath>
<filter id="eblur" x="-10%" y="-10%" width="120%" height="120%"><feGaussianBlur stdDeviation="0.9"/></filter>
</defs>
<circle cx="219.5" cy="178.8" r="22.3" fill="#1c1cec"/>
<g clip-path="url(#ec0)"><g filter="url(#eblur)">
<ellipse cx="219.5" cy="176" rx="19" ry="6.5" fill="#2a3cb0"/>
<ellipse cx="230" cy="183" rx="9" ry="4" fill="#2a3cb0"/>
<ellipse cx="204" cy="180" rx="5" ry="3" fill="#2a3cb0"/>
<ellipse cx="219.5" cy="175.3" rx="21.45" ry="5.85"  fill="#38b038"/>
<ellipse cx="219.5" cy="175.3" rx="12.87" ry="3.51"  fill="#88d444"/>
<ellipse cx="210.0" cy="174.5" rx="6.00" ry="5.10"  fill="#38b038"/>
<ellipse cx="210.0" cy="174.5" rx="3.60" ry="3.06"  fill="#88d444"/>
<ellipse cx="229.0" cy="175.5" rx="6.75" ry="5.40"  fill="#38b038"/>
<ellipse cx="229.0" cy="175.5" rx="4.05" ry="3.24"  fill="#88d444"/>
<ellipse cx="200.2" cy="170.5" rx="5.76" ry="7.68"  fill="#2a3cb0"/>
<ellipse cx="200.2" cy="170.5" rx="3.60" ry="4.80"  fill="#38b038"/>
<ellipse cx="200.2" cy="170.5" rx="2.16" ry="2.88"  fill="#88d444"/>
<ellipse cx="206.2" cy="180.9" rx="4.32" ry="3.84"  fill="#2a3cb0"/>
<ellipse cx="206.2" cy="180.9" rx="2.70" ry="2.40"  fill="#38b038"/>
<ellipse cx="206.2" cy="180.9" rx="1.62" ry="1.44"  fill="#88d444"/>
<ellipse cx="238.0" cy="172.2" rx="4.80" ry="7.20"  fill="#2a3cb0"/>
<ellipse cx="238.0" cy="172.2" rx="3.00" ry="4.50"  fill="#38b038"/>
<ellipse cx="238.0" cy="172.2" rx="1.80" ry="2.70"  fill="#88d444"/>
<ellipse cx="236.4" cy="185.2" rx="4.32" ry="6.24"  fill="#2a3cb0"/>
<ellipse cx="236.4" cy="185.2" rx="2.70" ry="3.90"  fill="#38b038"/>
<ellipse cx="236.4" cy="185.2" rx="1.62" ry="2.34"  fill="#88d444"/>
<ellipse cx="208.5" cy="176" rx="2.0" ry="1.6" fill="#90d848"/>
<ellipse cx="214" cy="175.2" rx="2.0" ry="1.6" fill="#90d848"/>
<ellipse cx="227.5" cy="176" rx="2.0" ry="1.6" fill="#90d848"/>
<ellipse cx="232" cy="175" rx="2.0" ry="1.6" fill="#90d848"/>
<ellipse cx="214" cy="175.5" rx="1.3" ry="1.1" fill="#e8f060"/>
<ellipse cx="220.5" cy="175.6" rx="4.2" ry="2.0" fill="#e8f060"/>
<ellipse cx="221" cy="175.6" rx="4.0" ry="2.0" fill="#e83a1a"/>
</g></g>
<line x1="197.2" y1="178.8" x2="241.8" y2="178.8" stroke="#18186a" stroke-width="0.35"/>
<line x1="219.5" y1="156.5" x2="219.5" y2="201.10000000000002" stroke="#18186a" stroke-width="0.35"/>
<circle cx="269.2" cy="178.8" r="22.3" fill="#1c1cec"/>
<g clip-path="url(#ec1)"><g filter="url(#eblur)">
<ellipse cx="258.8" cy="160.2" rx="7.68" ry="4.32"  fill="#2a3cb0"/>
<ellipse cx="258.8" cy="160.2" rx="4.80" ry="2.70"  fill="#38b038"/>
<ellipse cx="258.8" cy="160.2" rx="2.88" ry="1.62"  fill="#88d444"/>
<ellipse cx="277.8" cy="159.3" rx="6.72" ry="4.32"  fill="#2a3cb0"/>
<ellipse cx="277.8" cy="159.3" rx="4.20" ry="2.70"  fill="#38b038"/>
<ellipse cx="277.8" cy="159.3" rx="2.52" ry="1.62"  fill="#88d444"/>
<ellipse cx="248.4" cy="177.4" rx="6.72" ry="6.72"  fill="#2a3cb0"/>
<ellipse cx="248.4" cy="177.4" rx="4.20" ry="4.20"  fill="#38b038"/>
<ellipse cx="248.4" cy="177.4" rx="2.52" ry="2.52"  fill="#88d444"/>
<ellipse cx="286.4" cy="176.6" rx="7.68" ry="6.24"  fill="#2a3cb0"/>
<ellipse cx="286.4" cy="176.6" rx="4.80" ry="3.90"  fill="#38b038"/>
<ellipse cx="286.4" cy="176.6" rx="2.88" ry="2.34"  fill="#88d444"/>
<ellipse cx="259.7" cy="195.5" rx="9.12" ry="7.68"  fill="#2a3cb0"/>
<ellipse cx="259.7" cy="195.5" rx="5.70" ry="4.80"  fill="#38b038"/>
<ellipse cx="259.7" cy="195.5" rx="3.42" ry="2.88"  fill="#88d444"/>
<ellipse cx="259.7" cy="195.5" rx="1.90" ry="1.60"  fill="#a8e048"/>
<ellipse cx="259.7" cy="195.5" rx="1.14" ry="0.96"  fill="#e0f050"/>
<ellipse cx="277.8" cy="195.5" rx="9.12" ry="6.72"  fill="#2a3cb0"/>
<ellipse cx="277.8" cy="195.5" rx="5.70" ry="4.20"  fill="#38b038"/>
<ellipse cx="277.8" cy="195.5" rx="3.42" ry="2.52"  fill="#88d444"/>
<ellipse cx="277.8" cy="195.5" rx="1.90" ry="1.40"  fill="#a8e048"/>
</g></g>
<line x1="246.89999999999998" y1="178.8" x2="291.5" y2="178.8" stroke="#18186a" stroke-width="0.35"/>
<line x1="269.2" y1="156.5" x2="269.2" y2="201.10000000000002" stroke="#18186a" stroke-width="0.35"/>
<circle cx="318.5" cy="178.8" r="22.3" fill="#1c1cec"/>
<g clip-path="url(#ec2)"><g filter="url(#eblur)">
<ellipse cx="319" cy="157" rx="8.16" ry="3.84"  fill="#2a3cb0"/>
<ellipse cx="319" cy="157" rx="5.10" ry="2.40"  fill="#38b038"/>
<ellipse cx="319" cy="157" rx="3.06" ry="1.44"  fill="#88d444"/>
<ellipse cx="300.9" cy="167.1" rx="7.68" ry="6.24"  fill="#2a3cb0"/>
<ellipse cx="300.9" cy="167.1" rx="4.80" ry="3.90"  fill="#38b038"/>
<ellipse cx="300.9" cy="167.1" rx="2.88" ry="2.34"  fill="#88d444"/>
<ellipse cx="334.5" cy="166.2" rx="7.68" ry="5.28"  fill="#2a3cb0"/>
<ellipse cx="334.5" cy="166.2" rx="4.80" ry="3.30"  fill="#38b038"/>
<ellipse cx="334.5" cy="166.2" rx="2.88" ry="1.98"  fill="#88d444"/>
<ellipse cx="301.8" cy="186.9" rx="7.68" ry="6.72"  fill="#2a3cb0"/>
<ellipse cx="301.8" cy="186.9" rx="4.80" ry="4.20"  fill="#38b038"/>
<ellipse cx="301.8" cy="186.9" rx="2.88" ry="2.52"  fill="#88d444"/>
<ellipse cx="301.8" cy="186.9" rx="1.60" ry="1.40"  fill="#a8e048"/>
<ellipse cx="335.4" cy="186.9" rx="6.24" ry="7.68"  fill="#2a3cb0"/>
<ellipse cx="335.4" cy="186.9" rx="3.90" ry="4.80"  fill="#38b038"/>
<ellipse cx="335.4" cy="186.9" rx="2.34" ry="2.88"  fill="#88d444"/>
<ellipse cx="335.4" cy="186.9" rx="1.30" ry="1.60"  fill="#a8e048"/>
<ellipse cx="319" cy="197.2" rx="12.48" ry="6.72"  fill="#2a3cb0"/>
<ellipse cx="319" cy="197.2" rx="7.80" ry="4.20"  fill="#38b038"/>
<ellipse cx="319" cy="197.2" rx="4.68" ry="2.52"  fill="#88d444"/>
<ellipse cx="319" cy="197.2" rx="2.60" ry="1.40"  fill="#a8e048"/>
<ellipse cx="319" cy="197.2" rx="2.60" ry="1.54"  fill="#e83a1a"/>
</g></g>
<line x1="296.2" y1="178.8" x2="340.8" y2="178.8" stroke="#18186a" stroke-width="0.35"/>
<line x1="318.5" y1="156.5" x2="318.5" y2="201.10000000000002" stroke="#18186a" stroke-width="0.35"/>
<circle cx="219.6" cy="242.5" r="22.3" fill="#1c1cec"/>
<g clip-path="url(#ec3)"><g filter="url(#eblur)">
<ellipse cx="219" cy="242" rx="26" ry="7.5" transform="rotate(18 219 242)" fill="#2a3cb0"/>
<ellipse cx="200.2" cy="237.0" rx="4.80" ry="6.30"  fill="#38b038"/>
<ellipse cx="200.2" cy="237.0" rx="2.88" ry="3.78"  fill="#88d444"/>
<ellipse cx="221.0" cy="241.5" rx="17.25" ry="5.70" transform="rotate(5 221.0 241.5)" fill="#38b038"/>
<ellipse cx="221.0" cy="241.5" rx="10.35" ry="3.42" transform="rotate(5 221.0 241.5)" fill="#88d444"/>
<ellipse cx="214.0" cy="240.5" rx="6.75" ry="5.40"  fill="#38b038"/>
<ellipse cx="214.0" cy="240.5" rx="4.05" ry="3.24"  fill="#88d444"/>
<ellipse cx="228.0" cy="239.5" rx="6.00" ry="6.00"  fill="#38b038"/>
<ellipse cx="228.0" cy="239.5" rx="3.60" ry="3.60"  fill="#88d444"/>
<ellipse cx="239.0" cy="249.9" rx="5.28" ry="7.68"  fill="#2a3cb0"/>
<ellipse cx="239.0" cy="249.9" rx="3.30" ry="4.80"  fill="#38b038"/>
<ellipse cx="239.0" cy="249.9" rx="1.98" ry="2.88"  fill="#88d444"/>
<ellipse cx="212" cy="241.5" rx="2.2" ry="1.6" fill="#90d848"/>
<ellipse cx="219" cy="242.5" rx="2.2" ry="1.6" fill="#90d848"/>
<ellipse cx="228" cy="240.5" rx="2.2" ry="1.6" fill="#90d848"/>
<ellipse cx="223.4" cy="243" rx="4.0" ry="2.0" fill="#e83a1a"/>
</g></g>
<line x1="197.29999999999998" y1="242.5" x2="241.9" y2="242.5" stroke="#18186a" stroke-width="0.35"/>
<line x1="219.6" y1="220.2" x2="219.6" y2="264.8" stroke="#18186a" stroke-width="0.35"/>
<circle cx="269.2" cy="242.5" r="22.3" fill="#1c1cec"/>
<g clip-path="url(#ec4)"><g filter="url(#eblur)">
<ellipse cx="259.7" cy="224.9" rx="9.12" ry="6.72"  fill="#2a3cb0"/>
<ellipse cx="259.7" cy="224.9" rx="5.70" ry="4.20"  fill="#38b038"/>
<ellipse cx="259.7" cy="224.9" rx="3.42" ry="2.52"  fill="#88d444"/>
<ellipse cx="259.7" cy="224.9" rx="1.90" ry="1.40"  fill="#a8e048"/>
<ellipse cx="259.7" cy="224.9" rx="1.14" ry="0.84"  fill="#e0f050"/>
<ellipse cx="277.8" cy="224.0" rx="9.12" ry="6.72"  fill="#2a3cb0"/>
<ellipse cx="277.8" cy="224.0" rx="5.70" ry="4.20"  fill="#38b038"/>
<ellipse cx="277.8" cy="224.0" rx="3.42" ry="2.52"  fill="#88d444"/>
<ellipse cx="277.8" cy="224.0" rx="1.90" ry="1.40"  fill="#a8e048"/>
<ellipse cx="250.2" cy="243.0" rx="8.16" ry="7.20"  fill="#2a3cb0"/>
<ellipse cx="250.2" cy="243.0" rx="5.10" ry="4.50"  fill="#38b038"/>
<ellipse cx="250.2" cy="243.0" rx="3.06" ry="2.70"  fill="#88d444"/>
<ellipse cx="250.2" cy="243.0" rx="1.70" ry="1.50"  fill="#a8e048"/>
<ellipse cx="288.1" cy="241.3" rx="6.72" ry="6.72"  fill="#2a3cb0"/>
<ellipse cx="288.1" cy="241.3" rx="4.20" ry="4.20"  fill="#38b038"/>
<ellipse cx="288.1" cy="241.3" rx="2.52" ry="2.52"  fill="#88d444"/>
<ellipse cx="260.5" cy="260.2" rx="9.12" ry="5.76"  fill="#2a3cb0"/>
<ellipse cx="260.5" cy="260.2" rx="5.70" ry="3.60"  fill="#38b038"/>
<ellipse cx="260.5" cy="260.2" rx="3.42" ry="2.16"  fill="#88d444"/>
<ellipse cx="260.5" cy="260.2" rx="1.90" ry="1.20"  fill="#a8e048"/>
<ellipse cx="278.6" cy="259.4" rx="8.16" ry="5.76"  fill="#2a3cb0"/>
<ellipse cx="278.6" cy="259.4" rx="5.10" ry="3.60"  fill="#38b038"/>
<ellipse cx="278.6" cy="259.4" rx="3.06" ry="2.16"  fill="#88d444"/>
</g></g>
<line x1="246.89999999999998" y1="242.5" x2="291.5" y2="242.5" stroke="#18186a" stroke-width="0.35"/>
<line x1="269.2" y1="220.2" x2="269.2" y2="264.8" stroke="#18186a" stroke-width="0.35"/>
<circle cx="318.5" cy="242.5" r="22.3" fill="#1c1cec"/>
<g clip-path="url(#ec5)"><g filter="url(#eblur)">
<ellipse cx="318.1" cy="220.6" rx="11.52" ry="4.32"  fill="#2a3cb0"/>
<ellipse cx="318.1" cy="220.6" rx="7.20" ry="2.70"  fill="#38b038"/>
<ellipse cx="318.1" cy="220.6" rx="4.32" ry="1.62"  fill="#88d444"/>
<ellipse cx="318.1" cy="220.6" rx="2.40" ry="0.99"  fill="#e83a1a"/>
<ellipse cx="301.8" cy="233.5" rx="8.64" ry="6.24"  fill="#2a3cb0"/>
<ellipse cx="301.8" cy="233.5" rx="5.40" ry="3.90"  fill="#38b038"/>
<ellipse cx="301.8" cy="233.5" rx="3.24" ry="2.34"  fill="#88d444"/>
<ellipse cx="301.8" cy="233.5" rx="1.80" ry="1.30"  fill="#a8e048"/>
<ellipse cx="301.8" cy="233.5" rx="1.08" ry="0.78"  fill="#e0f050"/>
<ellipse cx="335.4" cy="231.0" rx="7.68" ry="6.24"  fill="#2a3cb0"/>
<ellipse cx="335.4" cy="231.0" rx="4.80" ry="3.90"  fill="#38b038"/>
<ellipse cx="335.4" cy="231.0" rx="2.88" ry="2.34"  fill="#88d444"/>
<ellipse cx="335.4" cy="231.0" rx="1.60" ry="1.30"  fill="#a8e048"/>
<ellipse cx="302.6" cy="253.3" rx="8.64" ry="6.24"  fill="#2a3cb0"/>
<ellipse cx="302.6" cy="253.3" rx="5.40" ry="3.90"  fill="#38b038"/>
<ellipse cx="302.6" cy="253.3" rx="3.24" ry="2.34"  fill="#88d444"/>
<ellipse cx="302.6" cy="253.3" rx="1.80" ry="1.30"  fill="#a8e048"/>
<ellipse cx="302.6" cy="253.3" rx="1.08" ry="0.78"  fill="#e0f050"/>
<ellipse cx="335.4" cy="251.6" rx="7.68" ry="6.24"  fill="#2a3cb0"/>
<ellipse cx="335.4" cy="251.6" rx="4.80" ry="3.90"  fill="#38b038"/>
<ellipse cx="335.4" cy="251.6" rx="2.88" ry="2.34"  fill="#88d444"/>
<ellipse cx="335.4" cy="251.6" rx="1.60" ry="1.30"  fill="#a8e048"/>
<ellipse cx="319" cy="263.2" rx="11.52" ry="4.32"  fill="#2a3cb0"/>
<ellipse cx="319" cy="263.2" rx="7.20" ry="2.70"  fill="#38b038"/>
<ellipse cx="319" cy="263.2" rx="4.32" ry="1.62"  fill="#88d444"/>
<ellipse cx="319" cy="263.2" rx="2.40" ry="0.99"  fill="#e83a1a"/>
</g></g>
<line x1="296.2" y1="242.5" x2="340.8" y2="242.5" stroke="#18186a" stroke-width="0.35"/>
<line x1="318.5" y1="220.2" x2="318.5" y2="264.8" stroke="#18186a" stroke-width="0.35"/>
<line x1="241.8" y1="178.8" x2="247" y2="178.8" stroke="#666" stroke-width="0.5"/>
<text x="203.00" y="156.40" font-size="4.2" font-family="'Liberation Serif', serif" text-anchor="start" fill="#333" font-weight="normal" stroke="#333" stroke-width="0.15" >(0001)</text>
<text x="247.50" y="156.40" font-size="4.2" font-family="'Liberation Serif', serif" text-anchor="start" fill="#333" font-weight="normal" stroke="#333" stroke-width="0.15" >(11<tspan text-decoration="overline">2</tspan>0)</text>
<text x="301.00" y="156.40" font-size="4.2" font-family="'Liberation Serif', serif" text-anchor="start" fill="#333" font-weight="normal" stroke="#333" stroke-width="0.15" >(10<tspan text-decoration="overline">1</tspan>0)</text>
<text x="203.00" y="220.20" font-size="4.2" font-family="'Liberation Serif', serif" text-anchor="start" fill="#333" font-weight="normal" stroke="#333" stroke-width="0.15" >[0001]</text>
<text x="247.50" y="220.20" font-size="4.2" font-family="'Liberation Serif', serif" text-anchor="start" fill="#333" font-weight="normal" stroke="#333" stroke-width="0.15" >(11<tspan text-decoration="overline">2</tspan>0)</text>
<text x="301.00" y="220.20" font-size="4.2" font-family="'Liberation Serif', serif" text-anchor="start" fill="#333" font-weight="normal" stroke="#333" stroke-width="0.15" >(10<tspan text-decoration="overline">1</tspan>0)</text>
<text x="218.00" y="156.40" font-size="4.0" font-family="'Liberation Serif', serif" text-anchor="start" fill="#333" font-weight="normal" stroke="#333" stroke-width="0.15" >RD</text>
<text x="269.80" y="207.60" font-size="4.4" font-family="'Liberation Serif', serif" text-anchor="middle" fill="#333" font-weight="normal" stroke="#333" stroke-width="0.15" >Max. intensity : 10.00</text>
<text x="266.20" y="271.40" font-size="4.4" font-family="'Liberation Serif', serif" text-anchor="middle" fill="#333" font-weight="normal" stroke="#333" stroke-width="0.15" >Max. intensity : 9.60</text>
<rect x="380.2" y="150.8" width="142.3" height="105.80000000000001" fill="none" stroke="#909090" stroke-width="0.9"/>
<line x1="380.2" y1="256.60" x2="381.7" y2="256.60" stroke="#777" stroke-width="0.5"/>
<text x="377.60" y="258.30" font-size="4.8" font-family="'Liberation Sans', sans-serif" text-anchor="end" fill="#222" font-weight="bold"  >30</text>
<line x1="380.2" y1="247.79" x2="381.2" y2="247.79" stroke="#777" stroke-width="0.5"/>
<line x1="380.2" y1="238.97" x2="381.7" y2="238.97" stroke="#777" stroke-width="0.5"/>
<text x="377.60" y="240.67" font-size="4.8" font-family="'Liberation Sans', sans-serif" text-anchor="end" fill="#222" font-weight="bold"  >40</text>
<line x1="380.2" y1="230.16" x2="381.2" y2="230.16" stroke="#777" stroke-width="0.5"/>
<line x1="380.2" y1="221.34" x2="381.7" y2="221.34" stroke="#777" stroke-width="0.5"/>
<text x="377.60" y="223.04" font-size="4.8" font-family="'Liberation Sans', sans-serif" text-anchor="end" fill="#222" font-weight="bold"  >50</text>
<line x1="380.2" y1="212.53" x2="381.2" y2="212.53" stroke="#777" stroke-width="0.5"/>
<line x1="380.2" y1="203.71" x2="381.7" y2="203.71" stroke="#777" stroke-width="0.5"/>
<text x="377.60" y="205.41" font-size="4.8" font-family="'Liberation Sans', sans-serif" text-anchor="end" fill="#222" font-weight="bold"  >60</text>
<line x1="380.2" y1="194.90" x2="381.2" y2="194.90" stroke="#777" stroke-width="0.5"/>
<line x1="380.2" y1="186.08" x2="381.7" y2="186.08" stroke="#777" stroke-width="0.5"/>
<text x="377.60" y="187.78" font-size="4.8" font-family="'Liberation Sans', sans-serif" text-anchor="end" fill="#222" font-weight="bold"  >70</text>
<line x1="380.2" y1="177.27" x2="381.2" y2="177.27" stroke="#777" stroke-width="0.5"/>
<line x1="380.2" y1="168.45" x2="381.7" y2="168.45" stroke="#777" stroke-width="0.5"/>
<text x="377.60" y="170.15" font-size="4.8" font-family="'Liberation Sans', sans-serif" text-anchor="end" fill="#222" font-weight="bold"  >80</text>
<line x1="380.2" y1="159.64" x2="381.2" y2="159.64" stroke="#777" stroke-width="0.5"/>
<line x1="380.2" y1="150.82" x2="381.7" y2="150.82" stroke="#777" stroke-width="0.5"/>
<text x="377.60" y="152.52" font-size="4.8" font-family="'Liberation Sans', sans-serif" text-anchor="end" fill="#222" font-weight="bold"  >90</text>
<line x1="380.20" y1="256.6" x2="380.20" y2="255.10000000000002" stroke="#777" stroke-width="0.5"/>
<text x="380.20" y="263.00" font-size="4.8" font-family="'Liberation Sans', sans-serif" text-anchor="middle" fill="#222" font-weight="bold"  >0</text>
<line x1="392.06" y1="256.6" x2="392.06" y2="255.60000000000002" stroke="#777" stroke-width="0.5"/>
<line x1="403.91" y1="256.6" x2="403.91" y2="255.10000000000002" stroke="#777" stroke-width="0.5"/>
<text x="403.91" y="263.00" font-size="4.8" font-family="'Liberation Sans', sans-serif" text-anchor="middle" fill="#222" font-weight="bold"  >300</text>
<line x1="415.77" y1="256.6" x2="415.77" y2="255.60000000000002" stroke="#777" stroke-width="0.5"/>
<line x1="427.63" y1="256.6" x2="427.63" y2="255.10000000000002" stroke="#777" stroke-width="0.5"/>
<text x="427.63" y="263.00" font-size="4.8" font-family="'Liberation Sans', sans-serif" text-anchor="middle" fill="#222" font-weight="bold"  >600</text>
<line x1="439.49" y1="256.6" x2="439.49" y2="255.60000000000002" stroke="#777" stroke-width="0.5"/>
<line x1="451.34" y1="256.6" x2="451.34" y2="255.10000000000002" stroke="#777" stroke-width="0.5"/>
<text x="451.34" y="263.00" font-size="4.8" font-family="'Liberation Sans', sans-serif" text-anchor="middle" fill="#222" font-weight="bold"  >900</text>
<line x1="463.20" y1="256.6" x2="463.20" y2="255.60000000000002" stroke="#777" stroke-width="0.5"/>
<line x1="475.06" y1="256.6" x2="475.06" y2="255.10000000000002" stroke="#777" stroke-width="0.5"/>
<text x="475.06" y="263.00" font-size="4.8" font-family="'Liberation Sans', sans-serif" text-anchor="middle" fill="#222" font-weight="bold"  >1200</text>
<line x1="486.92" y1="256.6" x2="486.92" y2="255.60000000000002" stroke="#777" stroke-width="0.5"/>
<line x1="498.77" y1="256.6" x2="498.77" y2="255.10000000000002" stroke="#777" stroke-width="0.5"/>
<text x="498.77" y="263.00" font-size="4.8" font-family="'Liberation Sans', sans-serif" text-anchor="middle" fill="#222" font-weight="bold"  >1500</text>
<line x1="510.63" y1="256.6" x2="510.63" y2="255.60000000000002" stroke="#777" stroke-width="0.5"/>
<line x1="522.49" y1="256.6" x2="522.49" y2="255.10000000000002" stroke="#777" stroke-width="0.5"/>
<text x="522.49" y="263.00" font-size="4.8" font-family="'Liberation Sans', sans-serif" text-anchor="middle" fill="#222" font-weight="bold"  >1800</text>
<text x="452.70" y="271.60" font-size="5.8" font-family="'Liberation Sans', sans-serif" text-anchor="middle" fill="#111" font-weight="bold" stroke="#111" stroke-width="0.15" >Frequency (MHz)</text>
<g transform="translate(368.2,204.0) rotate(-90)">
<text x="0.00" y="0.00" font-size="5.88" font-family="'Liberation Sans', sans-serif" text-anchor="middle" fill="#111" font-weight="bold" stroke="#111" stroke-width="0.15" >Shielding Effectiveness (dB)</text>
</g>
<path d="M382.00 193.20 L385.30 196.80 L388.90 199.50 L396.20 201.40 L405.30 204.60 L414.40 208.60 L423.50 211.40 L432.50 213.20 L441.60 214.50 L447.00 214.10 L459.80 212.30 L468.90 211.40 L477.40 210.50 L484.60 211.70 L491.80 209.20 L495.40 210.50 L499.90 209.90" fill="none" stroke="#000000" stroke-width="0.9" stroke-linejoin="round"/>
<rect x="381.30" y="192.50" width="1.4" height="1.4" fill="#000000"/>
<rect x="383.06" y="194.42" width="1.4" height="1.4" fill="#000000"/>
<rect x="384.85" y="196.29" width="1.4" height="1.4" fill="#000000"/>
<rect x="386.93" y="197.85" width="1.4" height="1.4" fill="#000000"/>
<rect x="389.18" y="199.06" width="1.4" height="1.4" fill="#000000"/>
<rect x="391.70" y="199.71" width="1.4" height="1.4" fill="#000000"/>
<rect x="394.22" y="200.37" width="1.4" height="1.4" fill="#000000"/>
<rect x="396.70" y="201.12" width="1.4" height="1.4" fill="#000000"/>
<rect x="399.15" y="201.98" width="1.4" height="1.4" fill="#000000"/>
<rect x="401.61" y="202.85" width="1.4" height="1.4" fill="#000000"/>
<rect x="404.06" y="203.71" width="1.4" height="1.4" fill="#000000"/>
<rect x="406.46" y="204.72" width="1.4" height="1.4" fill="#000000"/>
<rect x="408.84" y="205.76" width="1.4" height="1.4" fill="#000000"/>
<rect x="411.22" y="206.81" width="1.4" height="1.4" fill="#000000"/>
<rect x="413.60" y="207.85" width="1.4" height="1.4" fill="#000000"/>
<rect x="416.08" y="208.63" width="1.4" height="1.4" fill="#000000"/>
<rect x="418.56" y="209.40" width="1.4" height="1.4" fill="#000000"/>
<rect x="421.05" y="210.16" width="1.4" height="1.4" fill="#000000"/>
<rect x="423.55" y="210.85" width="1.4" height="1.4" fill="#000000"/>
<rect x="426.10" y="211.36" width="1.4" height="1.4" fill="#000000"/>
<rect x="428.65" y="211.87" width="1.4" height="1.4" fill="#000000"/>
<rect x="431.20" y="212.38" width="1.4" height="1.4" fill="#000000"/>
<rect x="433.77" y="212.78" width="1.4" height="1.4" fill="#000000"/>
<rect x="436.34" y="213.15" width="1.4" height="1.4" fill="#000000"/>
<rect x="438.92" y="213.52" width="1.4" height="1.4" fill="#000000"/>
<rect x="441.49" y="213.76" width="1.4" height="1.4" fill="#000000"/>
<rect x="444.09" y="213.56" width="1.4" height="1.4" fill="#000000"/>
<rect x="446.68" y="213.35" width="1.4" height="1.4" fill="#000000"/>
<rect x="449.25" y="212.99" width="1.4" height="1.4" fill="#000000"/>
<rect x="451.83" y="212.62" width="1.4" height="1.4" fill="#000000"/>
<rect x="454.40" y="212.26" width="1.4" height="1.4" fill="#000000"/>
<rect x="456.98" y="211.90" width="1.4" height="1.4" fill="#000000"/>
<rect x="459.55" y="211.56" width="1.4" height="1.4" fill="#000000"/>
<rect x="462.14" y="211.30" width="1.4" height="1.4" fill="#000000"/>
<rect x="464.73" y="211.04" width="1.4" height="1.4" fill="#000000"/>
<rect x="467.31" y="210.79" width="1.4" height="1.4" fill="#000000"/>
<rect x="469.90" y="210.52" width="1.4" height="1.4" fill="#000000"/>
<rect x="472.49" y="210.25" width="1.4" height="1.4" fill="#000000"/>
<rect x="475.07" y="209.97" width="1.4" height="1.4" fill="#000000"/>
<rect x="477.65" y="209.96" width="1.4" height="1.4" fill="#000000"/>
<rect x="480.21" y="210.39" width="1.4" height="1.4" fill="#000000"/>
<rect x="482.78" y="210.81" width="1.4" height="1.4" fill="#000000"/>
<rect x="485.28" y="210.52" width="1.4" height="1.4" fill="#000000"/>
<rect x="487.74" y="209.67" width="1.4" height="1.4" fill="#000000"/>
<rect x="490.19" y="208.81" width="1.4" height="1.4" fill="#000000"/>
<rect x="492.64" y="209.06" width="1.4" height="1.4" fill="#000000"/>
<rect x="495.11" y="209.75" width="1.4" height="1.4" fill="#000000"/>
<rect x="497.69" y="209.40" width="1.4" height="1.4" fill="#000000"/>
<path d="M382.00 168.90 L388.80 175.20 L396.00 181.50 L399.20 183.80 L403.20 182.00 L408.60 185.10 L414.00 186.90 L423.00 188.70 L429.30 189.20 L434.00 191.00 L443.00 191.70 L452.00 190.50 L459.20 189.90 L468.20 190.50 L476.30 193.20 L481.00 193.40 L490.00 196.10 L499.00 197.90" fill="none" stroke="#108a18" stroke-width="0.6" stroke-linejoin="round"/>
<rect x="381.30" y="168.20" width="1.4" height="1.4" fill="#108a18"/>
<rect x="383.65" y="170.37" width="1.4" height="1.4" fill="#108a18"/>
<rect x="385.99" y="172.55" width="1.4" height="1.4" fill="#108a18"/>
<rect x="388.35" y="174.72" width="1.4" height="1.4" fill="#108a18"/>
<rect x="390.76" y="176.82" width="1.4" height="1.4" fill="#108a18"/>
<rect x="393.16" y="178.93" width="1.4" height="1.4" fill="#108a18"/>
<rect x="395.59" y="181.01" width="1.4" height="1.4" fill="#108a18"/>
<rect x="398.19" y="182.88" width="1.4" height="1.4" fill="#108a18"/>
<rect x="401.07" y="181.94" width="1.4" height="1.4" fill="#108a18"/>
<rect x="403.92" y="182.11" width="1.4" height="1.4" fill="#108a18"/>
<rect x="406.69" y="183.71" width="1.4" height="1.4" fill="#108a18"/>
<rect x="409.62" y="184.97" width="1.4" height="1.4" fill="#108a18"/>
<rect x="412.65" y="185.98" width="1.4" height="1.4" fill="#108a18"/>
<rect x="415.77" y="186.69" width="1.4" height="1.4" fill="#108a18"/>
<rect x="418.91" y="187.32" width="1.4" height="1.4" fill="#108a18"/>
<rect x="422.04" y="187.95" width="1.4" height="1.4" fill="#108a18"/>
<rect x="425.23" y="188.23" width="1.4" height="1.4" fill="#108a18"/>
<rect x="428.42" y="188.49" width="1.4" height="1.4" fill="#108a18"/>
<rect x="431.42" y="189.58" width="1.4" height="1.4" fill="#108a18"/>
<rect x="434.48" y="190.39" width="1.4" height="1.4" fill="#108a18"/>
<rect x="437.67" y="190.64" width="1.4" height="1.4" fill="#108a18"/>
<rect x="440.86" y="190.89" width="1.4" height="1.4" fill="#108a18"/>
<rect x="444.04" y="190.77" width="1.4" height="1.4" fill="#108a18"/>
<rect x="447.22" y="190.34" width="1.4" height="1.4" fill="#108a18"/>
<rect x="450.39" y="189.92" width="1.4" height="1.4" fill="#108a18"/>
<rect x="453.57" y="189.61" width="1.4" height="1.4" fill="#108a18"/>
<rect x="456.76" y="189.34" width="1.4" height="1.4" fill="#108a18"/>
<rect x="459.95" y="189.30" width="1.4" height="1.4" fill="#108a18"/>
<rect x="463.14" y="189.51" width="1.4" height="1.4" fill="#108a18"/>
<rect x="466.34" y="189.72" width="1.4" height="1.4" fill="#108a18"/>
<rect x="469.43" y="190.44" width="1.4" height="1.4" fill="#108a18"/>
<rect x="472.47" y="191.46" width="1.4" height="1.4" fill="#108a18"/>
<rect x="475.50" y="192.47" width="1.4" height="1.4" fill="#108a18"/>
<rect x="478.69" y="192.63" width="1.4" height="1.4" fill="#108a18"/>
<rect x="481.82" y="193.16" width="1.4" height="1.4" fill="#108a18"/>
<rect x="484.89" y="194.08" width="1.4" height="1.4" fill="#108a18"/>
<rect x="487.96" y="195.00" width="1.4" height="1.4" fill="#108a18"/>
<rect x="491.06" y="195.75" width="1.4" height="1.4" fill="#108a18"/>
<rect x="494.20" y="196.38" width="1.4" height="1.4" fill="#108a18"/>
<rect x="497.34" y="197.01" width="1.4" height="1.4" fill="#108a18"/>
<path d="M382.00 168.00 L388.80 171.60 L396.00 172.50 L405.00 175.20 L414.00 177.90 L420.30 180.20 L429.30 180.20 L434.00 180.60 L443.00 180.20 L452.00 179.70 L461.00 179.10 L468.20 181.50 L476.30 183.30 L481.00 184.00 L490.00 184.40 L499.90 185.80" fill="none" stroke="#e01818" stroke-width="0.6" stroke-linejoin="round"/>
<rect x="381.30" y="167.30" width="1.4" height="1.4" fill="#e01818"/>
<rect x="384.13" y="168.80" width="1.4" height="1.4" fill="#e01818"/>
<rect x="386.96" y="170.29" width="1.4" height="1.4" fill="#e01818"/>
<rect x="389.99" y="171.14" width="1.4" height="1.4" fill="#e01818"/>
<rect x="393.17" y="171.53" width="1.4" height="1.4" fill="#e01818"/>
<rect x="396.31" y="172.10" width="1.4" height="1.4" fill="#e01818"/>
<rect x="399.37" y="173.02" width="1.4" height="1.4" fill="#e01818"/>
<rect x="402.44" y="173.94" width="1.4" height="1.4" fill="#e01818"/>
<rect x="405.50" y="174.86" width="1.4" height="1.4" fill="#e01818"/>
<rect x="408.57" y="175.78" width="1.4" height="1.4" fill="#e01818"/>
<rect x="411.63" y="176.70" width="1.4" height="1.4" fill="#e01818"/>
<rect x="414.67" y="177.70" width="1.4" height="1.4" fill="#e01818"/>
<rect x="417.67" y="178.80" width="1.4" height="1.4" fill="#e01818"/>
<rect x="420.75" y="179.50" width="1.4" height="1.4" fill="#e01818"/>
<rect x="423.95" y="179.50" width="1.4" height="1.4" fill="#e01818"/>
<rect x="427.15" y="179.50" width="1.4" height="1.4" fill="#e01818"/>
<rect x="430.34" y="179.65" width="1.4" height="1.4" fill="#e01818"/>
<rect x="433.53" y="179.89" width="1.4" height="1.4" fill="#e01818"/>
<rect x="436.73" y="179.75" width="1.4" height="1.4" fill="#e01818"/>
<rect x="439.93" y="179.61" width="1.4" height="1.4" fill="#e01818"/>
<rect x="443.12" y="179.45" width="1.4" height="1.4" fill="#e01818"/>
<rect x="446.32" y="179.28" width="1.4" height="1.4" fill="#e01818"/>
<rect x="449.51" y="179.10" width="1.4" height="1.4" fill="#e01818"/>
<rect x="452.71" y="178.91" width="1.4" height="1.4" fill="#e01818"/>
<rect x="455.90" y="178.69" width="1.4" height="1.4" fill="#e01818"/>
<rect x="459.09" y="178.48" width="1.4" height="1.4" fill="#e01818"/>
<rect x="462.19" y="179.03" width="1.4" height="1.4" fill="#e01818"/>
<rect x="465.22" y="180.04" width="1.4" height="1.4" fill="#e01818"/>
<rect x="468.28" y="180.97" width="1.4" height="1.4" fill="#e01818"/>
<rect x="471.41" y="181.67" width="1.4" height="1.4" fill="#e01818"/>
<rect x="474.53" y="182.36" width="1.4" height="1.4" fill="#e01818"/>
<rect x="477.68" y="182.91" width="1.4" height="1.4" fill="#e01818"/>
<rect x="480.85" y="183.32" width="1.4" height="1.4" fill="#e01818"/>
<rect x="484.05" y="183.47" width="1.4" height="1.4" fill="#e01818"/>
<rect x="487.25" y="183.61" width="1.4" height="1.4" fill="#e01818"/>
<rect x="490.43" y="183.86" width="1.4" height="1.4" fill="#e01818"/>
<rect x="493.60" y="184.31" width="1.4" height="1.4" fill="#e01818"/>
<rect x="496.77" y="184.76" width="1.4" height="1.4" fill="#e01818"/>
<path d="M382.00 159.00 L388.80 163.50 L396.00 167.10 L403.20 168.90 L414.00 171.60 L423.00 173.40 L429.30 175.20 L434.00 176.10 L443.00 177.90 L452.00 177.00 L459.20 175.50 L463.70 178.40 L470.00 183.30 L477.40 188.30 L484.60 190.10 L491.80 190.70 L499.90 193.70" fill="none" stroke="#1a28e0" stroke-width="0.6" stroke-linejoin="round"/>
<rect x="381.30" y="158.30" width="1.4" height="1.4" fill="#1a28e0"/>
<rect x="383.97" y="160.07" width="1.4" height="1.4" fill="#1a28e0"/>
<rect x="386.64" y="161.83" width="1.4" height="1.4" fill="#1a28e0"/>
<rect x="389.39" y="163.45" width="1.4" height="1.4" fill="#1a28e0"/>
<rect x="392.26" y="164.88" width="1.4" height="1.4" fill="#1a28e0"/>
<rect x="395.12" y="166.31" width="1.4" height="1.4" fill="#1a28e0"/>
<rect x="398.21" y="167.13" width="1.4" height="1.4" fill="#1a28e0"/>
<rect x="401.31" y="167.90" width="1.4" height="1.4" fill="#1a28e0"/>
<rect x="404.42" y="168.68" width="1.4" height="1.4" fill="#1a28e0"/>
<rect x="407.52" y="169.45" width="1.4" height="1.4" fill="#1a28e0"/>
<rect x="410.62" y="170.23" width="1.4" height="1.4" fill="#1a28e0"/>
<rect x="413.73" y="170.99" width="1.4" height="1.4" fill="#1a28e0"/>
<rect x="416.87" y="171.61" width="1.4" height="1.4" fill="#1a28e0"/>
<rect x="420.01" y="172.24" width="1.4" height="1.4" fill="#1a28e0"/>
<rect x="423.13" y="172.94" width="1.4" height="1.4" fill="#1a28e0"/>
<rect x="426.21" y="173.82" width="1.4" height="1.4" fill="#1a28e0"/>
<rect x="429.30" y="174.63" width="1.4" height="1.4" fill="#1a28e0"/>
<rect x="432.44" y="175.24" width="1.4" height="1.4" fill="#1a28e0"/>
<rect x="435.58" y="175.86" width="1.4" height="1.4" fill="#1a28e0"/>
<rect x="438.72" y="176.48" width="1.4" height="1.4" fill="#1a28e0"/>
<rect x="441.86" y="177.11" width="1.4" height="1.4" fill="#1a28e0"/>
<rect x="445.03" y="176.93" width="1.4" height="1.4" fill="#1a28e0"/>
<rect x="448.22" y="176.61" width="1.4" height="1.4" fill="#1a28e0"/>
<rect x="451.40" y="176.28" width="1.4" height="1.4" fill="#1a28e0"/>
<rect x="454.53" y="175.63" width="1.4" height="1.4" fill="#1a28e0"/>
<rect x="457.67" y="174.97" width="1.4" height="1.4" fill="#1a28e0"/>
<rect x="460.47" y="176.07" width="1.4" height="1.4" fill="#1a28e0"/>
<rect x="463.15" y="177.82" width="1.4" height="1.4" fill="#1a28e0"/>
<rect x="465.68" y="179.78" width="1.4" height="1.4" fill="#1a28e0"/>
<rect x="468.21" y="181.75" width="1.4" height="1.4" fill="#1a28e0"/>
<rect x="470.80" y="183.62" width="1.4" height="1.4" fill="#1a28e0"/>
<rect x="473.45" y="185.41" width="1.4" height="1.4" fill="#1a28e0"/>
<rect x="476.11" y="187.20" width="1.4" height="1.4" fill="#1a28e0"/>
<rect x="479.11" y="188.20" width="1.4" height="1.4" fill="#1a28e0"/>
<rect x="482.21" y="188.98" width="1.4" height="1.4" fill="#1a28e0"/>
<rect x="485.36" y="189.52" width="1.4" height="1.4" fill="#1a28e0"/>
<rect x="488.55" y="189.79" width="1.4" height="1.4" fill="#1a28e0"/>
<rect x="491.70" y="190.22" width="1.4" height="1.4" fill="#1a28e0"/>
<rect x="494.70" y="191.33" width="1.4" height="1.4" fill="#1a28e0"/>
<rect x="497.70" y="192.44" width="1.4" height="1.4" fill="#1a28e0"/>
<text x="505.30" y="188.30" font-size="5.0" font-family="'Liberation Sans', sans-serif" text-anchor="start" fill="#d02020" font-weight="bold" stroke="#d02020" stroke-width="0.15" >C</text>
<text x="505.30" y="195.50" font-size="5.0" font-family="'Liberation Sans', sans-serif" text-anchor="start" fill="#2030d0" font-weight="bold" stroke="#2030d0" stroke-width="0.15" >D</text>
<text x="505.30" y="201.50" font-size="5.0" font-family="'Liberation Sans', sans-serif" text-anchor="start" fill="#108a18" font-weight="bold" stroke="#108a18" stroke-width="0.15" >B</text>
<text x="505.30" y="212.80" font-size="5.0" font-family="'Liberation Sans', sans-serif" text-anchor="start" fill="#111" font-weight="bold" stroke="#111" stroke-width="0.15" >A</text>
<line x1="387.3" y1="225.80" x2="398.9" y2="225.80" stroke="#000" stroke-width="0.5" stroke-dasharray="2 1" opacity="0.6"/>
<rect x="392.4" y="225.05" width="1.5" height="1.5" fill="#000"/>
<text x="400.40" y="227.60" font-size="5.0" font-family="'Liberation Sans', sans-serif" text-anchor="start" fill="#111" font-weight="normal" stroke="#111" stroke-width="0.15" ><tspan fill="#000">A</tspan>-Extruded</text>
<line x1="387.3" y1="233.30" x2="398.9" y2="233.30" stroke="#108a18" stroke-width="0.5" stroke-dasharray="2 1" opacity="0.6"/>
<rect x="392.4" y="232.55" width="1.5" height="1.5" fill="#108a18"/>
<text x="400.40" y="235.10" font-size="5.0" font-family="'Liberation Sans', sans-serif" text-anchor="start" fill="#111" font-weight="normal" stroke="#111" stroke-width="0.15" ><tspan fill="#108a18">B</tspan>-Aged at 150<tspan dy="-1.6" font-size="3.2">o</tspan><tspan dy="1.6">C for 4 h</tspan></text>
<line x1="387.3" y1="240.80" x2="398.9" y2="240.80" stroke="#e01818" stroke-width="0.5" stroke-dasharray="2 1" opacity="0.6"/>
<rect x="392.4" y="240.05" width="1.5" height="1.5" fill="#e01818"/>
<text x="400.40" y="242.60" font-size="5.0" font-family="'Liberation Sans', sans-serif" text-anchor="start" fill="#111" font-weight="normal" stroke="#111" stroke-width="0.15" ><tspan fill="#e01818">C</tspan>-Aged at 150<tspan dy="-1.6" font-size="3.2">o</tspan><tspan dy="1.6">C for 15 h</tspan></text>
<line x1="387.3" y1="248.30" x2="398.9" y2="248.30" stroke="#1a28e0" stroke-width="0.5" stroke-dasharray="2 1" opacity="0.6"/>
<rect x="392.4" y="247.55" width="1.5" height="1.5" fill="#1a28e0"/>
<text x="400.40" y="250.10" font-size="5.0" font-family="'Liberation Sans', sans-serif" text-anchor="start" fill="#111" font-weight="normal" stroke="#111" stroke-width="0.15" ><tspan fill="#1a28e0">D</tspan>-Aged at 150<tspan dy="-1.6" font-size="3.2">o</tspan><tspan dy="1.6">C for 50 h</tspan></text>
<text x="4.60" y="15.90" font-size="20" font-family="'Liberation Serif', serif" text-anchor="start" fill="#000" font-weight="bold"  >a</text>
<text x="194.00" y="16.20" font-size="19" font-family="'Liberation Serif', serif" text-anchor="start" fill="#000" font-weight="bold"  >b</text>
<text x="358.00" y="16.40" font-size="20" font-family="'Liberation Serif', serif" text-anchor="start" fill="#000" font-weight="bold"  >c</text>
<text x="3.30" y="156.20" font-size="19" font-family="'Liberation Serif', serif" text-anchor="start" fill="#000" font-weight="bold"  >d</text>
<text x="193.60" y="155.50" font-size="20" font-family="'Liberation Serif', serif" text-anchor="start" fill="#000" font-weight="bold"  >e</text>
<text x="359.20" y="155.00" font-size="20.5" font-family="'Liberation Serif', serif" text-anchor="start" fill="#000" font-weight="bold"  >f</text>
</svg></body></html>
